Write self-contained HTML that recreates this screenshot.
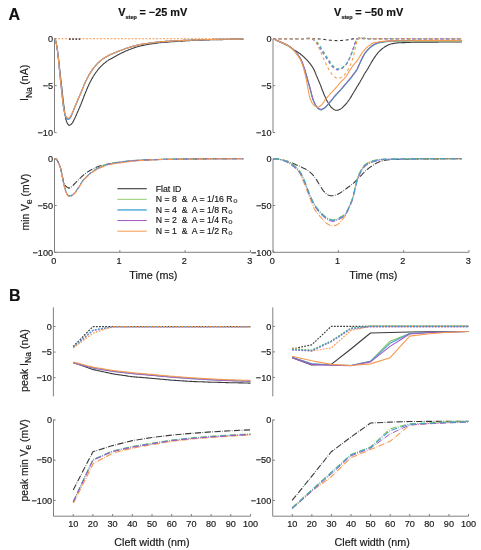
<!DOCTYPE html>
<html><head><meta charset="utf-8"><title>Figure</title>
<style>
html,body{margin:0;padding:0;background:#fff;}
body{width:481px;height:550px;overflow:hidden;}
svg{display:block;font-family:"Liberation Sans", sans-serif;will-change:transform;}
#w{width:481px;height:550px;}
text{stroke:#1a1a1a;stroke-width:0.18px;}
</style></head>
<body>
<div id="w">
<svg width="481" height="550" viewBox="0 0 481 550">
<rect width="481" height="550" fill="#fff"/>
<text x="8.4" y="20.2" font-size="16" text-anchor="start" font-weight="bold" fill="#111" >A</text>
<text x="8.9" y="301.1" font-size="16" text-anchor="start" font-weight="bold" fill="#111" >B</text>
<text x="118.20" y="16.1" font-size="10.9" font-weight="bold" fill="#111">V</text>
<text x="125.60" y="18.7" font-size="5.4" font-weight="bold" fill="#111">step</text>
<text x="139.45" y="16.1" font-size="10.9" font-weight="bold" fill="#111">= &#8722;25 mV</text>
<text x="334.10" y="16.1" font-size="10.9" font-weight="bold" fill="#111">V</text>
<text x="341.50" y="18.7" font-size="5.4" font-weight="bold" fill="#111">step</text>
<text x="355.35" y="16.1" font-size="10.9" font-weight="bold" fill="#111">= &#8722;50 mV</text>
<line x1="54.5" y1="38.7" x2="54.5" y2="132.60000000000002" stroke="#808080" stroke-width="1.0"/>
<line x1="54.5" y1="38.7" x2="56.7" y2="38.7" stroke="#808080" stroke-width="1.0"/>
<text x="53.0" y="41.900000000000006" font-size="9.1" text-anchor="end" font-weight="normal" fill="#1a1a1a" >0</text>
<line x1="54.5" y1="85.65" x2="56.7" y2="85.65" stroke="#808080" stroke-width="1.0"/>
<text x="53.0" y="88.85000000000001" font-size="9.1" text-anchor="end" font-weight="normal" fill="#1a1a1a" >&#8722;5</text>
<line x1="54.5" y1="132.60000000000002" x2="56.7" y2="132.60000000000002" stroke="#808080" stroke-width="1.0"/>
<text x="53.0" y="135.8" font-size="9.1" text-anchor="end" font-weight="normal" fill="#1a1a1a" >&#8722;10</text>
<line x1="273.0" y1="38.7" x2="273.0" y2="132.60000000000002" stroke="#808080" stroke-width="1.0"/>
<line x1="273.0" y1="38.7" x2="275.2" y2="38.7" stroke="#808080" stroke-width="1.0"/>
<text x="271.5" y="41.900000000000006" font-size="9.1" text-anchor="end" font-weight="normal" fill="#1a1a1a" >0</text>
<line x1="273.0" y1="85.65" x2="275.2" y2="85.65" stroke="#808080" stroke-width="1.0"/>
<text x="271.5" y="88.85000000000001" font-size="9.1" text-anchor="end" font-weight="normal" fill="#1a1a1a" >&#8722;5</text>
<line x1="273.0" y1="132.60000000000002" x2="275.2" y2="132.60000000000002" stroke="#808080" stroke-width="1.0"/>
<text x="271.5" y="135.8" font-size="9.1" text-anchor="end" font-weight="normal" fill="#1a1a1a" >&#8722;10</text>
<line x1="54.5" y1="158.7" x2="54.5" y2="252.3" stroke="#808080" stroke-width="1.0"/>
<line x1="54.5" y1="158.7" x2="56.7" y2="158.7" stroke="#808080" stroke-width="1.0"/>
<text x="53.0" y="161.89999999999998" font-size="9.1" text-anchor="end" font-weight="normal" fill="#1a1a1a" >0</text>
<line x1="54.5" y1="205.5" x2="56.7" y2="205.5" stroke="#808080" stroke-width="1.0"/>
<text x="53.0" y="208.7" font-size="9.1" text-anchor="end" font-weight="normal" fill="#1a1a1a" >&#8722;50</text>
<line x1="54.5" y1="252.3" x2="56.7" y2="252.3" stroke="#808080" stroke-width="1.0"/>
<text x="53.0" y="255.5" font-size="9.1" text-anchor="end" font-weight="normal" fill="#1a1a1a" >&#8722;100</text>
<line x1="54.5" y1="252.3" x2="250.5" y2="252.3" stroke="#808080" stroke-width="1.0"/>
<line x1="54.5" y1="252.3" x2="54.5" y2="250.10000000000002" stroke="#808080" stroke-width="1.0"/>
<text x="53.7" y="263.90000000000003" font-size="9.1" text-anchor="middle" font-weight="normal" fill="#1a1a1a" >0</text>
<line x1="119.83333333333333" y1="252.3" x2="119.83333333333333" y2="250.10000000000002" stroke="#808080" stroke-width="1.0"/>
<text x="119.03333333333333" y="263.90000000000003" font-size="9.1" text-anchor="middle" font-weight="normal" fill="#1a1a1a" >1</text>
<line x1="185.16666666666666" y1="252.3" x2="185.16666666666666" y2="250.10000000000002" stroke="#808080" stroke-width="1.0"/>
<text x="184.36666666666665" y="263.90000000000003" font-size="9.1" text-anchor="middle" font-weight="normal" fill="#1a1a1a" >2</text>
<line x1="250.5" y1="252.3" x2="250.5" y2="250.10000000000002" stroke="#808080" stroke-width="1.0"/>
<text x="249.7" y="263.90000000000003" font-size="9.1" text-anchor="middle" font-weight="normal" fill="#1a1a1a" >3</text>
<text x="153.3" y="278.9" font-size="10.8" text-anchor="middle" font-weight="normal" fill="#1a1a1a" >Time (ms)</text>
<line x1="273.0" y1="158.7" x2="273.0" y2="252.3" stroke="#808080" stroke-width="1.0"/>
<line x1="273.0" y1="158.7" x2="275.2" y2="158.7" stroke="#808080" stroke-width="1.0"/>
<text x="271.5" y="161.89999999999998" font-size="9.1" text-anchor="end" font-weight="normal" fill="#1a1a1a" >0</text>
<line x1="273.0" y1="205.5" x2="275.2" y2="205.5" stroke="#808080" stroke-width="1.0"/>
<text x="271.5" y="208.7" font-size="9.1" text-anchor="end" font-weight="normal" fill="#1a1a1a" >&#8722;50</text>
<line x1="273.0" y1="252.3" x2="275.2" y2="252.3" stroke="#808080" stroke-width="1.0"/>
<text x="271.5" y="255.5" font-size="9.1" text-anchor="end" font-weight="normal" fill="#1a1a1a" >&#8722;100</text>
<line x1="273.0" y1="252.3" x2="469.0" y2="252.3" stroke="#808080" stroke-width="1.0"/>
<line x1="273.0" y1="252.3" x2="273.0" y2="250.10000000000002" stroke="#808080" stroke-width="1.0"/>
<text x="272.2" y="263.90000000000003" font-size="9.1" text-anchor="middle" font-weight="normal" fill="#1a1a1a" >0</text>
<line x1="338.3333333333333" y1="252.3" x2="338.3333333333333" y2="250.10000000000002" stroke="#808080" stroke-width="1.0"/>
<text x="337.5333333333333" y="263.90000000000003" font-size="9.1" text-anchor="middle" font-weight="normal" fill="#1a1a1a" >1</text>
<line x1="403.66666666666663" y1="252.3" x2="403.66666666666663" y2="250.10000000000002" stroke="#808080" stroke-width="1.0"/>
<text x="402.8666666666666" y="263.90000000000003" font-size="9.1" text-anchor="middle" font-weight="normal" fill="#1a1a1a" >2</text>
<line x1="469.0" y1="252.3" x2="469.0" y2="250.10000000000002" stroke="#808080" stroke-width="1.0"/>
<text x="468.2" y="263.90000000000003" font-size="9.1" text-anchor="middle" font-weight="normal" fill="#1a1a1a" >3</text>
<text x="373.3" y="278.9" font-size="10.8" text-anchor="middle" font-weight="normal" fill="#1a1a1a" >Time (ms)</text>
<line x1="53.4" y1="307.4" x2="53.4" y2="396.4" stroke="#808080" stroke-width="1.0"/>
<line x1="53.4" y1="326.6" x2="55.6" y2="326.6" stroke="#808080" stroke-width="1.0"/>
<text x="51.9" y="329.8" font-size="9.1" text-anchor="end" font-weight="normal" fill="#1a1a1a" >0</text>
<line x1="53.4" y1="352.1" x2="55.6" y2="352.1" stroke="#808080" stroke-width="1.0"/>
<text x="51.9" y="355.3" font-size="9.1" text-anchor="end" font-weight="normal" fill="#1a1a1a" >&#8722;5</text>
<line x1="53.4" y1="377.6" x2="55.6" y2="377.6" stroke="#808080" stroke-width="1.0"/>
<text x="51.9" y="380.8" font-size="9.1" text-anchor="end" font-weight="normal" fill="#1a1a1a" >&#8722;10</text>
<line x1="272.8" y1="307.4" x2="272.8" y2="396.4" stroke="#808080" stroke-width="1.0"/>
<line x1="272.8" y1="326.4" x2="275.0" y2="326.4" stroke="#808080" stroke-width="1.0"/>
<text x="271.3" y="329.59999999999997" font-size="9.1" text-anchor="end" font-weight="normal" fill="#1a1a1a" >0</text>
<line x1="272.8" y1="351.9" x2="275.0" y2="351.9" stroke="#808080" stroke-width="1.0"/>
<text x="271.3" y="355.09999999999997" font-size="9.1" text-anchor="end" font-weight="normal" fill="#1a1a1a" >&#8722;5</text>
<line x1="272.8" y1="377.4" x2="275.0" y2="377.4" stroke="#808080" stroke-width="1.0"/>
<text x="271.3" y="380.59999999999997" font-size="9.1" text-anchor="end" font-weight="normal" fill="#1a1a1a" >&#8722;10</text>
<line x1="53.5" y1="419.4" x2="53.5" y2="516.2" stroke="#808080" stroke-width="1.0"/>
<line x1="53.5" y1="419.9" x2="55.7" y2="419.9" stroke="#808080" stroke-width="1.0"/>
<text x="52.0" y="423.09999999999997" font-size="9.1" text-anchor="end" font-weight="normal" fill="#1a1a1a" >0</text>
<line x1="53.5" y1="460.17499999999995" x2="55.7" y2="460.17499999999995" stroke="#808080" stroke-width="1.0"/>
<text x="52.0" y="463.37499999999994" font-size="9.1" text-anchor="end" font-weight="normal" fill="#1a1a1a" >&#8722;50</text>
<line x1="53.5" y1="500.45" x2="55.7" y2="500.45" stroke="#808080" stroke-width="1.0"/>
<text x="52.0" y="503.65" font-size="9.1" text-anchor="end" font-weight="normal" fill="#1a1a1a" >&#8722;100</text>
<line x1="53.5" y1="516.2" x2="250.5" y2="516.2" stroke="#808080" stroke-width="1.0"/>
<line x1="73.2" y1="516.2" x2="73.2" y2="514.0" stroke="#808080" stroke-width="1.0"/>
<text x="73.2" y="526.9000000000001" font-size="9.1" text-anchor="middle" font-weight="normal" fill="#1a1a1a" >10</text>
<line x1="92.9" y1="516.2" x2="92.9" y2="514.0" stroke="#808080" stroke-width="1.0"/>
<text x="92.9" y="526.9000000000001" font-size="9.1" text-anchor="middle" font-weight="normal" fill="#1a1a1a" >20</text>
<line x1="112.6" y1="516.2" x2="112.6" y2="514.0" stroke="#808080" stroke-width="1.0"/>
<text x="112.6" y="526.9000000000001" font-size="9.1" text-anchor="middle" font-weight="normal" fill="#1a1a1a" >30</text>
<line x1="132.3" y1="516.2" x2="132.3" y2="514.0" stroke="#808080" stroke-width="1.0"/>
<text x="132.3" y="526.9000000000001" font-size="9.1" text-anchor="middle" font-weight="normal" fill="#1a1a1a" >40</text>
<line x1="152.0" y1="516.2" x2="152.0" y2="514.0" stroke="#808080" stroke-width="1.0"/>
<text x="152.0" y="526.9000000000001" font-size="9.1" text-anchor="middle" font-weight="normal" fill="#1a1a1a" >50</text>
<line x1="171.7" y1="516.2" x2="171.7" y2="514.0" stroke="#808080" stroke-width="1.0"/>
<text x="171.7" y="526.9000000000001" font-size="9.1" text-anchor="middle" font-weight="normal" fill="#1a1a1a" >60</text>
<line x1="191.4" y1="516.2" x2="191.4" y2="514.0" stroke="#808080" stroke-width="1.0"/>
<text x="191.4" y="526.9000000000001" font-size="9.1" text-anchor="middle" font-weight="normal" fill="#1a1a1a" >70</text>
<line x1="211.1" y1="516.2" x2="211.1" y2="514.0" stroke="#808080" stroke-width="1.0"/>
<text x="211.1" y="526.9000000000001" font-size="9.1" text-anchor="middle" font-weight="normal" fill="#1a1a1a" >80</text>
<line x1="230.8" y1="516.2" x2="230.8" y2="514.0" stroke="#808080" stroke-width="1.0"/>
<text x="230.8" y="526.9000000000001" font-size="9.1" text-anchor="middle" font-weight="normal" fill="#1a1a1a" >90</text>
<line x1="250.5" y1="516.2" x2="250.5" y2="514.0" stroke="#808080" stroke-width="1.0"/>
<text x="250.5" y="526.9000000000001" font-size="9.1" text-anchor="middle" font-weight="normal" fill="#1a1a1a" >100</text>
<text x="151.9" y="546.1" font-size="10.75" text-anchor="middle" font-weight="normal" fill="#1a1a1a" >Cleft width (nm)</text>
<line x1="272.7" y1="419.5" x2="272.7" y2="516.2" stroke="#808080" stroke-width="1.0"/>
<line x1="272.7" y1="420.0" x2="274.9" y2="420.0" stroke="#808080" stroke-width="1.0"/>
<text x="271.2" y="423.2" font-size="9.1" text-anchor="end" font-weight="normal" fill="#1a1a1a" >0</text>
<line x1="272.7" y1="460.225" x2="274.9" y2="460.225" stroke="#808080" stroke-width="1.0"/>
<text x="271.2" y="463.425" font-size="9.1" text-anchor="end" font-weight="normal" fill="#1a1a1a" >&#8722;50</text>
<line x1="272.7" y1="500.45" x2="274.9" y2="500.45" stroke="#808080" stroke-width="1.0"/>
<text x="271.2" y="503.65" font-size="9.1" text-anchor="end" font-weight="normal" fill="#1a1a1a" >&#8722;100</text>
<line x1="272.7" y1="516.2" x2="468.5" y2="516.2" stroke="#808080" stroke-width="1.0"/>
<line x1="292.28" y1="516.2" x2="292.28" y2="514.0" stroke="#808080" stroke-width="1.0"/>
<text x="292.28" y="526.9000000000001" font-size="9.1" text-anchor="middle" font-weight="normal" fill="#1a1a1a" >10</text>
<line x1="311.86" y1="516.2" x2="311.86" y2="514.0" stroke="#808080" stroke-width="1.0"/>
<text x="311.86" y="526.9000000000001" font-size="9.1" text-anchor="middle" font-weight="normal" fill="#1a1a1a" >20</text>
<line x1="331.44" y1="516.2" x2="331.44" y2="514.0" stroke="#808080" stroke-width="1.0"/>
<text x="331.44" y="526.9000000000001" font-size="9.1" text-anchor="middle" font-weight="normal" fill="#1a1a1a" >30</text>
<line x1="351.02" y1="516.2" x2="351.02" y2="514.0" stroke="#808080" stroke-width="1.0"/>
<text x="351.02" y="526.9000000000001" font-size="9.1" text-anchor="middle" font-weight="normal" fill="#1a1a1a" >40</text>
<line x1="370.6" y1="516.2" x2="370.6" y2="514.0" stroke="#808080" stroke-width="1.0"/>
<text x="370.6" y="526.9000000000001" font-size="9.1" text-anchor="middle" font-weight="normal" fill="#1a1a1a" >50</text>
<line x1="390.18" y1="516.2" x2="390.18" y2="514.0" stroke="#808080" stroke-width="1.0"/>
<text x="390.18" y="526.9000000000001" font-size="9.1" text-anchor="middle" font-weight="normal" fill="#1a1a1a" >60</text>
<line x1="409.76" y1="516.2" x2="409.76" y2="514.0" stroke="#808080" stroke-width="1.0"/>
<text x="409.76" y="526.9000000000001" font-size="9.1" text-anchor="middle" font-weight="normal" fill="#1a1a1a" >70</text>
<line x1="429.34000000000003" y1="516.2" x2="429.34000000000003" y2="514.0" stroke="#808080" stroke-width="1.0"/>
<text x="429.34000000000003" y="526.9000000000001" font-size="9.1" text-anchor="middle" font-weight="normal" fill="#1a1a1a" >80</text>
<line x1="448.92" y1="516.2" x2="448.92" y2="514.0" stroke="#808080" stroke-width="1.0"/>
<text x="448.92" y="526.9000000000001" font-size="9.1" text-anchor="middle" font-weight="normal" fill="#1a1a1a" >90</text>
<line x1="468.5" y1="516.2" x2="468.5" y2="514.0" stroke="#808080" stroke-width="1.0"/>
<text x="468.5" y="526.9000000000001" font-size="9.1" text-anchor="middle" font-weight="normal" fill="#1a1a1a" >100</text>
<text x="372.25" y="546.1" font-size="10.75" text-anchor="middle" font-weight="normal" fill="#1a1a1a" >Cleft width (nm)</text>
<text transform="translate(28.1,82.9) rotate(-90)" font-size="10.6" text-anchor="middle" fill="#1a1a1a">I<tspan font-size="8.6" dy="3.4">Na</tspan><tspan dy="-3.4" dx="-0.6"> (nA)</tspan></text>
<text transform="translate(28.9,202.2) rotate(-90)" font-size="10.4" text-anchor="middle" fill="#1a1a1a">min V<tspan font-size="8.4" dy="3.2">e</tspan><tspan dy="-3.2"> (mV)</tspan></text>
<text transform="translate(27.8,360.5) rotate(-90)" font-size="10.6" text-anchor="middle" fill="#1a1a1a">peak I<tspan font-size="8.6" dy="3.2">Na</tspan><tspan dy="-3.2"> (nA)</tspan></text>
<text transform="translate(28.2,460.4) rotate(-90)" font-size="10.4" text-anchor="middle" fill="#1a1a1a">peak min V<tspan font-size="8.4" dy="3.2">e</tspan><tspan dy="-3.2"> (mV)</tspan></text>
<line x1="117.4" y1="188.7" x2="146.8" y2="188.7" stroke="#3a3a3a" stroke-width="1.1"/>
<text x="155.8" y="191.5" font-size="8.7" text-anchor="start" font-weight="normal" fill="#1a1a1a" >Flat ID</text>
<line x1="117.4" y1="199.32" x2="146.8" y2="199.32" stroke="#86c45e" stroke-width="0.9"/>
<text x="155.8" y="202.02" font-size="8.7" fill="#1a1a1a" xml:space="preserve">N = 8 &#160;&amp;&#160; A = 1/16 R<tspan font-size="7" dx="0.6" dy="1.2" font-weight="bold" fill="#666" stroke="#666">o</tspan></text>
<line x1="117.4" y1="209.94" x2="146.8" y2="209.94" stroke="#3f9fd6" stroke-width="1.3"/>
<text x="155.8" y="212.64" font-size="8.7" fill="#1a1a1a" xml:space="preserve">N = 4 &#160;&amp;&#160; A = 1/8 R<tspan font-size="7" dx="0.6" dy="1.2" font-weight="bold" fill="#666" stroke="#666">o</tspan></text>
<line x1="117.4" y1="220.56" x2="146.8" y2="220.56" stroke="#a458c0" stroke-width="1.0"/>
<text x="155.8" y="223.26" font-size="8.7" fill="#1a1a1a" xml:space="preserve">N = 2 &#160;&amp;&#160; A = 1/4 R<tspan font-size="7" dx="0.6" dy="1.2" font-weight="bold" fill="#666" stroke="#666">o</tspan></text>
<line x1="117.4" y1="231.17999999999998" x2="146.8" y2="231.17999999999998" stroke="#f59a4f" stroke-width="1.0"/>
<text x="155.8" y="233.88" font-size="8.7" fill="#1a1a1a" xml:space="preserve">N = 1 &#160;&amp;&#160; A = 1/2 R<tspan font-size="7" dx="0.6" dy="1.2" font-weight="bold" fill="#666" stroke="#666">o</tspan></text>
<path d="M54.50,38.70 L243.40,38.70" fill="none" stroke="#f59a4f" stroke-width="1.1" stroke-dasharray="2 1.5" stroke-dashoffset="0" stroke-linejoin="round" />
<path d="M69.00,39.20 L80.50,39.20" fill="none" stroke="#2a1a3a" stroke-width="1.3" stroke-dasharray="1.7 1.5" stroke-dashoffset="0" stroke-linejoin="round" />
<path d="M54.6,38.7 55.1,39.6 55.6,40.6 55.8,41.3 56.0,42.2 56.2,43.1 56.4,44.0 56.6,45.0 56.8,45.9 56.9,46.9 57.1,47.8 57.2,48.9 57.4,49.9 57.6,50.9 57.7,52.0 57.8,52.9 57.9,53.7 58.0,54.6 58.2,55.5 58.3,56.4 58.4,57.3 58.5,58.2 58.6,59.2 58.7,60.1 58.8,61.0 58.9,61.9 59.0,62.8 59.1,63.7 59.2,64.6 59.3,65.5 59.4,66.4 59.5,67.3 59.6,68.3 59.7,69.2 59.8,70.1 59.9,71.0 60.0,71.9 60.1,72.8 60.2,73.7 60.3,74.6 60.4,75.6 60.5,76.5 60.6,77.4 60.7,78.3 60.8,79.2 60.9,80.1 61.0,81.0 61.1,81.9 61.2,82.9 61.3,83.8 61.4,84.7 61.5,85.7 61.7,86.6 61.8,87.5 61.9,88.5 62.0,89.4 62.1,90.4 62.2,91.3 62.3,92.2 62.4,93.2 62.5,94.2 62.6,95.1 62.7,96.1 62.8,97.1 62.9,98.0 63.0,98.9 63.1,99.8 63.2,100.7 63.3,101.5 63.4,102.6 63.6,103.6 63.7,104.6 63.8,105.6 64.0,106.5 64.1,107.5 64.2,108.5 64.3,109.5 64.5,110.4 64.6,111.4 64.7,112.4 64.9,113.5 65.1,114.4 65.2,115.3 65.4,116.3 65.5,117.3 65.7,118.3 65.9,119.3 66.2,120.2 66.4,121.0 66.7,121.8 67.2,122.9 67.7,123.9 68.3,124.8 68.9,125.2 69.7,125.1 70.6,124.7 71.5,124.0 72.0,123.4 72.5,122.7 73.0,121.9 73.5,121.0 73.9,120.0 74.4,119.1 74.8,118.3 75.2,117.5 75.6,116.6 76.0,115.7 76.4,114.8 76.8,113.9 77.2,112.9 77.6,112.0 78.0,111.1 78.4,110.2 78.7,109.4 79.1,108.5 79.5,107.7 79.9,106.8 80.2,105.9 80.6,105.0 81.0,104.2 81.3,103.3 81.7,102.4 82.0,101.5 82.4,100.6 82.7,99.8 83.0,98.9 83.4,98.0 83.7,97.1 84.0,96.2 84.4,95.3 84.7,94.4 85.1,93.5 85.4,92.7 85.8,91.8 86.2,90.9 86.5,90.1 86.9,89.2 87.3,88.3 87.6,87.4 88.0,86.6 88.4,85.7 88.8,84.8 89.2,84.0 89.6,83.2 90.0,82.3 90.5,81.5 90.9,80.6 91.4,79.8 91.8,78.9 92.3,78.1 92.8,77.3 93.2,76.5 93.7,75.8 94.2,75.0 94.7,74.2 95.3,73.3 95.8,72.5 96.4,71.8 97.0,71.0 97.5,70.2 98.1,69.5 98.7,68.8 99.3,68.1 100.0,67.4 100.6,66.7 101.3,66.1 102.0,65.4 102.6,64.8 103.3,64.2 104.0,63.5 104.8,62.9 105.5,62.3 106.3,61.7 107.0,61.1 107.8,60.6 108.7,60.0 109.6,59.4 110.6,58.9 111.5,58.4 112.4,57.9 113.3,57.4 114.2,56.9 115.1,56.4 116.0,55.9 116.8,55.5 117.5,55.1 118.3,54.7 119.1,54.3 120.0,53.8 120.7,53.5 121.5,53.1 122.3,52.7 123.1,52.3 123.9,51.9 124.8,51.5 125.7,51.1 126.6,50.7 127.5,50.4 128.3,50.0 129.2,49.6 130.1,49.3 131.1,48.9 132.0,48.6 132.9,48.2 133.8,47.9 134.7,47.6 135.7,47.3 136.6,47.0 137.5,46.7 138.4,46.5 139.4,46.2 140.3,46.0 141.2,45.8 142.1,45.6 143.0,45.4 144.0,45.2 144.9,45.0 145.8,44.8 146.7,44.6 147.7,44.5 148.6,44.3 149.5,44.2 150.4,44.0 151.4,43.9 152.3,43.7 153.2,43.6 154.1,43.5 155.1,43.3 156.0,43.2 156.9,43.1 157.9,42.9 158.8,42.8 159.7,42.7 160.6,42.6 161.5,42.5 162.5,42.4 163.5,42.3 164.4,42.3 165.4,42.2 166.3,42.1 167.3,42.1 168.2,42.0 169.2,41.9 170.1,41.9 171.1,41.8 172.0,41.7 173.0,41.6 174.0,41.6 175.0,41.5 175.9,41.4 176.8,41.4 177.7,41.3 178.6,41.3 179.5,41.2 180.5,41.2 181.4,41.1 182.4,41.1 183.3,41.0 184.2,41.0 185.2,40.9 186.1,40.8 187.0,40.8 187.9,40.7 188.8,40.7 189.7,40.6 190.7,40.5 191.6,40.5 192.5,40.4 193.5,40.4 194.4,40.4 195.4,40.3 196.4,40.3 197.3,40.3 198.3,40.2 199.3,40.2 200.3,40.2 201.3,40.1 202.3,40.1 203.3,40.1 204.2,40.0 205.2,40.0 206.2,40.0 207.2,39.9 208.2,39.9 209.2,39.9 210.2,39.8 211.1,39.8 212.1,39.8 213.1,39.8 214.0,39.7 215.0,39.7 216.0,39.7 216.9,39.7 217.9,39.6 218.8,39.6 219.8,39.6 220.7,39.6 221.6,39.6 222.6,39.6 223.5,39.5 224.5,39.5 225.4,39.5 226.4,39.5 227.3,39.5 228.3,39.5 229.2,39.5 230.1,39.4 231.1,39.4 232.0,39.4 233.0,39.4 233.9,39.4 234.9,39.4 235.8,39.3 236.8,39.3 237.7,39.3 238.7,39.3 239.6,39.3 240.6,39.3 241.5,39.2 242.5,39.2 243.4,39.2" fill="none" stroke="#3a3a3a" stroke-width="1.1" stroke-linejoin="round" />
<path d="M54.6,38.7 55.1,39.6 55.6,40.6 55.8,41.3 56.0,42.2 56.2,43.1 56.4,44.0 56.6,45.0 56.8,45.9 56.9,46.9 57.1,47.8 57.2,48.9 57.3,49.9 57.5,51.0 57.6,52.0 57.7,52.9 57.8,53.7 57.9,54.6 58.0,55.5 58.1,56.4 58.2,57.3 58.3,58.3 58.4,59.2 58.5,60.1 58.6,61.0 58.7,61.9 58.8,62.8 58.9,63.7 59.0,64.6 59.1,65.6 59.1,66.5 59.2,67.4 59.3,68.3 59.4,69.2 59.5,70.1 59.6,71.1 59.7,72.0 59.8,72.9 59.9,73.8 60.0,74.7 60.1,75.7 60.1,76.6 60.2,77.5 60.3,78.4 60.4,79.3 60.5,80.2 60.6,81.1 60.7,82.1 60.8,83.0 60.9,83.9 61.0,84.8 61.1,85.8 61.2,86.7 61.3,87.6 61.4,88.5 61.5,89.5 61.6,90.4 61.7,91.3 61.8,92.3 61.9,93.2 62.0,94.2 62.1,95.1 62.2,96.1 62.3,97.1 62.4,98.0 62.5,98.9 62.6,99.9 62.7,100.8 62.8,101.8 62.9,102.7 63.0,103.7 63.1,104.6 63.3,105.6 63.4,106.5 63.5,107.4 63.6,108.3 63.8,109.2 64.0,110.2 64.2,111.1 64.4,112.1 64.6,113.0 64.8,113.9 65.0,114.7 65.3,115.5 65.7,116.5 66.1,117.4 66.5,118.2 67.0,118.8 67.8,119.3 68.6,119.3 69.5,118.6 70.4,117.5 70.8,116.7 71.3,115.9 71.7,114.9 72.1,113.8 72.5,112.8 72.9,111.8 73.3,110.9 73.6,110.1 74.0,109.2 74.3,108.3 74.7,107.4 75.1,106.5 75.4,105.6 75.8,104.7 76.2,103.8 76.5,103.0 76.9,102.1 77.3,101.2 77.7,100.3 78.1,99.4 78.4,98.5 78.8,97.6 79.2,96.7 79.6,95.8 80.0,94.9 80.4,94.0 80.8,93.1 81.2,92.2 81.6,91.2 81.9,90.4 82.3,89.6 82.6,88.7 82.9,87.8 83.3,87.0 83.6,86.1 84.0,85.2 84.3,84.3 84.7,83.5 85.1,82.6 85.5,81.7 85.9,80.8 86.4,80.0 86.8,79.1 87.3,78.2 87.7,77.3 88.2,76.5 88.6,75.6 89.1,74.8 89.6,74.0 90.1,73.2 90.6,72.4 91.1,71.6 91.6,70.9 92.1,70.1 92.6,69.4 93.1,68.7 93.7,68.0 94.2,67.3 94.8,66.5 95.5,65.8 96.1,65.0 96.7,64.3 97.4,63.6 98.0,62.9 98.7,62.3 99.4,61.6 100.2,61.0 101.0,60.3 101.7,59.7 102.5,59.2 103.3,58.6 104.2,58.0 105.1,57.4 106.0,56.9 106.9,56.4 107.8,55.9 108.7,55.5 109.6,55.0 110.5,54.6 111.4,54.2 112.4,53.8 113.2,53.5 114.0,53.1 114.8,52.8 115.6,52.4 116.5,52.0 117.4,51.7 118.2,51.3 119.1,50.9 120.0,50.6 120.9,50.3 121.8,49.9 122.7,49.6 123.7,49.3 124.6,48.9 125.5,48.6 126.4,48.3 127.4,48.0 128.3,47.7 129.2,47.4 130.1,47.1 131.1,46.9 132.0,46.6 132.9,46.3 133.8,46.1 134.7,45.9 135.7,45.6 136.6,45.4 137.5,45.2 138.4,45.0 139.4,44.8 140.3,44.6 141.2,44.4 142.1,44.3 143.1,44.1 144.0,44.0 144.9,43.8 145.8,43.6 146.7,43.5 147.7,43.4 148.6,43.2 149.5,43.1 150.4,43.0 151.4,42.8 152.3,42.7 153.2,42.6 154.1,42.5 155.1,42.4 156.0,42.3 156.9,42.2 157.9,42.1 158.8,42.0 159.7,41.9 160.6,41.8 161.5,41.7 162.5,41.6 163.5,41.5 164.4,41.5 165.4,41.4 166.3,41.4 167.3,41.3 168.2,41.2 169.2,41.2 170.1,41.1 171.1,41.1 172.0,41.0 173.0,40.9 174.0,40.9 175.0,40.8 175.9,40.8 176.8,40.7 177.7,40.7 178.6,40.6 179.5,40.6 180.5,40.6 181.4,40.5 182.4,40.5 183.3,40.4 184.2,40.4 185.2,40.4 186.1,40.3 187.0,40.3 187.9,40.2 188.8,40.2 189.7,40.2 190.7,40.1 191.6,40.1 192.5,40.0 193.5,40.0 194.4,40.0 195.4,39.9 196.4,39.9 197.3,39.9 198.3,39.9 199.3,39.8 200.3,39.8 201.3,39.8 202.3,39.8 203.3,39.7 204.2,39.7 205.2,39.7 206.2,39.6 207.2,39.6 208.2,39.6 209.2,39.6 210.2,39.5 211.1,39.5 212.1,39.5 213.1,39.4 214.0,39.4 215.0,39.4 216.0,39.4 216.9,39.4 217.9,39.3 218.8,39.3 219.8,39.3 220.7,39.3 221.6,39.3 222.6,39.3 223.5,39.3 224.5,39.3 225.4,39.3 226.4,39.2 227.3,39.2 228.3,39.2 229.2,39.2 230.1,39.2 231.1,39.2 232.0,39.2 233.0,39.1 233.9,39.1 234.9,39.1 235.8,39.1 236.8,39.1 237.7,39.1 238.7,39.1 239.6,39.1 240.6,39.0 241.5,39.0 242.5,39.0 243.4,39.0" fill="none" stroke="#a458c0" stroke-width="1.1" stroke-linejoin="round" />
<path d="M54.6,38.7 55.1,39.6 55.6,40.6 55.8,41.3 56.0,42.2 56.2,43.1 56.4,44.0 56.6,45.0 56.8,45.9 56.9,46.9 57.1,47.8 57.2,48.9 57.3,49.9 57.5,51.0 57.6,52.0 57.7,52.9 57.8,53.7 57.9,54.6 58.0,55.5 58.1,56.4 58.2,57.3 58.3,58.3 58.4,59.2 58.5,60.1 58.6,61.0 58.7,61.9 58.8,62.8 58.9,63.7 59.0,64.6 59.1,65.6 59.1,66.5 59.2,67.4 59.3,68.3 59.4,69.2 59.5,70.1 59.6,71.1 59.7,72.0 59.8,72.9 59.9,73.8 60.0,74.7 60.1,75.7 60.1,76.6 60.2,77.5 60.3,78.4 60.4,79.3 60.5,80.2 60.6,81.1 60.7,82.1 60.8,83.0 60.9,83.9 61.0,84.8 61.1,85.8 61.2,86.7 61.3,87.6 61.4,88.5 61.5,89.5 61.6,90.4 61.7,91.3 61.8,92.3 61.9,93.2 62.0,94.2 62.1,95.1 62.2,96.1 62.3,97.1 62.4,98.0 62.5,98.9 62.6,99.9 62.7,100.8 62.8,101.8 62.9,102.7 63.0,103.7 63.1,104.6 63.3,105.6 63.4,106.5 63.5,107.4 63.6,108.3 63.8,109.2 64.0,110.2 64.2,111.1 64.4,112.1 64.6,113.0 64.8,113.9 65.0,114.7 65.3,115.5 65.7,116.5 66.1,117.4 66.5,118.2 67.0,118.8 67.8,119.3 68.6,119.3 69.5,118.6 70.4,117.5 70.8,116.7 71.3,115.9 71.7,114.9 72.1,113.8 72.5,112.8 72.9,111.8 73.3,110.9 73.6,110.1 74.0,109.2 74.3,108.3 74.7,107.4 75.1,106.5 75.4,105.6 75.8,104.7 76.2,103.8 76.5,103.0 76.9,102.1 77.3,101.2 77.7,100.3 78.1,99.4 78.4,98.5 78.8,97.6 79.2,96.7 79.6,95.8 80.0,94.9 80.4,94.0 80.8,93.1 81.2,92.2 81.6,91.2 81.9,90.4 82.3,89.6 82.6,88.7 82.9,87.8 83.3,87.0 83.6,86.1 84.0,85.2 84.3,84.3 84.7,83.5 85.1,82.6 85.5,81.7 85.9,80.8 86.4,80.0 86.8,79.1 87.3,78.2 87.7,77.3 88.2,76.5 88.6,75.6 89.1,74.8 89.6,74.0 90.1,73.2 90.6,72.4 91.1,71.6 91.6,70.9 92.1,70.1 92.6,69.4 93.1,68.7 93.7,68.0 94.2,67.3 94.8,66.5 95.5,65.8 96.1,65.0 96.7,64.3 97.4,63.6 98.0,62.9 98.7,62.3 99.4,61.6 100.2,61.0 101.0,60.3 101.7,59.7 102.5,59.2 103.3,58.6 104.2,58.0 105.1,57.4 106.0,56.9 106.9,56.4 107.8,55.9 108.7,55.5 109.6,55.0 110.5,54.6 111.4,54.2 112.4,53.8 113.2,53.5 114.0,53.1 114.8,52.8 115.6,52.4 116.5,52.0 117.4,51.7 118.2,51.3 119.1,50.9 120.0,50.6 120.9,50.3 121.8,49.9 122.7,49.6 123.7,49.3 124.6,48.9 125.5,48.6 126.4,48.3 127.4,48.0 128.3,47.7 129.2,47.4 130.1,47.1 131.1,46.9 132.0,46.6 132.9,46.3 133.8,46.1 134.7,45.9 135.7,45.6 136.6,45.4 137.5,45.2 138.4,45.0 139.4,44.8 140.3,44.6 141.2,44.4 142.1,44.3 143.1,44.1 144.0,44.0 144.9,43.8 145.8,43.6 146.7,43.5 147.7,43.4 148.6,43.2 149.5,43.1 150.4,43.0 151.4,42.8 152.3,42.7 153.2,42.6 154.1,42.5 155.1,42.4 156.0,42.3 156.9,42.2 157.9,42.1 158.8,42.0 159.7,41.9 160.6,41.8 161.5,41.7 162.5,41.6 163.5,41.5 164.4,41.5 165.4,41.4 166.3,41.4 167.3,41.3 168.2,41.2 169.2,41.2 170.1,41.1 171.1,41.1 172.0,41.0 173.0,40.9 174.0,40.9 175.0,40.8 175.9,40.8 176.8,40.7 177.7,40.7 178.6,40.6 179.5,40.6 180.5,40.6 181.4,40.5 182.4,40.5 183.3,40.4 184.2,40.4 185.2,40.4 186.1,40.3 187.0,40.3 187.9,40.2 188.8,40.2 189.7,40.2 190.7,40.1 191.6,40.1 192.5,40.0 193.5,40.0 194.4,40.0 195.4,39.9 196.4,39.9 197.3,39.9 198.3,39.9 199.3,39.8 200.3,39.8 201.3,39.8 202.3,39.8 203.3,39.7 204.2,39.7 205.2,39.7 206.2,39.6 207.2,39.6 208.2,39.6 209.2,39.6 210.2,39.5 211.1,39.5 212.1,39.5 213.1,39.4 214.0,39.4 215.0,39.4 216.0,39.4 216.9,39.4 217.9,39.3 218.8,39.3 219.8,39.3 220.7,39.3 221.6,39.3 222.6,39.3 223.5,39.3 224.5,39.3 225.4,39.3 226.4,39.2 227.3,39.2 228.3,39.2 229.2,39.2 230.1,39.2 231.1,39.2 232.0,39.2 233.0,39.1 233.9,39.1 234.9,39.1 235.8,39.1 236.8,39.1 237.7,39.1 238.7,39.1 239.6,39.1 240.6,39.0 241.5,39.0 242.5,39.0 243.4,39.0" fill="none" stroke="#3f9fd6" stroke-width="1.1" stroke-linejoin="round" />
<path d="M54.6,38.7 55.1,39.6 55.6,40.6 55.8,41.3 56.0,42.2 56.2,43.1 56.4,44.0 56.6,45.0 56.8,45.9 56.9,46.9 57.1,47.8 57.2,48.9 57.3,49.9 57.5,50.9 57.6,52.0 57.7,52.9 57.8,53.7 57.9,54.6 58.0,55.5 58.1,56.4 58.2,57.3 58.3,58.2 58.4,59.2 58.5,60.1 58.6,61.0 58.7,61.9 58.8,62.8 58.9,63.7 59.0,64.6 59.1,65.5 59.1,66.4 59.2,67.3 59.3,68.3 59.4,69.2 59.5,70.1 59.6,71.0 59.7,71.9 59.8,72.8 59.9,73.7 60.0,74.7 60.1,75.6 60.1,76.5 60.2,77.4 60.3,78.3 60.4,79.2 60.5,80.1 60.6,81.0 60.7,81.9 60.8,82.9 60.9,83.8 61.0,84.7 61.1,85.6 61.2,86.5 61.3,87.4 61.4,88.3 61.5,89.3 61.6,90.2 61.7,91.1 61.8,92.0 61.9,93.0 62.0,93.9 62.1,94.9 62.2,95.8 62.3,96.8 62.4,97.7 62.5,98.6 62.6,99.5 62.7,100.4 62.8,101.4 62.9,102.3 63.0,103.3 63.1,104.2 63.3,105.1 63.4,106.0 63.5,106.9 63.6,107.8 63.8,108.6 64.0,109.7 64.2,110.8 64.5,111.8 64.7,112.8 65.0,113.7 65.3,114.6 65.8,115.8 66.4,116.9 67.0,117.6 67.8,118.0 68.6,118.0 69.5,117.4 70.4,116.4 70.8,115.7 71.3,114.9 71.7,114.0 72.1,113.1 72.5,112.1 72.9,111.2 73.3,110.4 73.6,109.6 74.0,108.8 74.3,108.0 74.7,107.1 75.1,106.3 75.4,105.4 75.8,104.6 76.2,103.7 76.6,102.9 76.9,102.0 77.3,101.1 77.7,100.2 78.1,99.3 78.4,98.5 78.8,97.6 79.2,96.7 79.6,95.8 80.0,94.9 80.4,94.0 80.8,93.1 81.2,92.2 81.6,91.2 81.9,90.4 82.3,89.6 82.6,88.7 82.9,87.8 83.3,87.0 83.6,86.1 84.0,85.2 84.3,84.3 84.7,83.5 85.1,82.6 85.5,81.7 85.9,80.8 86.4,80.0 86.8,79.1 87.3,78.2 87.7,77.3 88.2,76.5 88.6,75.6 89.1,74.8 89.6,74.0 90.1,73.2 90.6,72.4 91.1,71.6 91.6,70.9 92.1,70.1 92.6,69.4 93.1,68.7 93.7,68.0 94.2,67.3 94.8,66.5 95.5,65.8 96.1,65.0 96.7,64.3 97.4,63.6 98.0,62.9 98.7,62.3 99.4,61.6 100.2,61.0 101.0,60.3 101.7,59.7 102.5,59.2 103.3,58.6 104.2,58.0 105.1,57.4 106.0,56.9 106.9,56.4 107.8,55.9 108.7,55.5 109.6,55.0 110.5,54.6 111.4,54.2 112.4,53.8 113.2,53.5 114.0,53.1 114.8,52.8 115.6,52.4 116.5,52.0 117.4,51.7 118.2,51.3 119.1,50.9 120.0,50.6 120.9,50.3 121.8,49.9 122.7,49.6 123.7,49.3 124.6,48.9 125.5,48.6 126.4,48.3 127.4,48.0 128.3,47.7 129.2,47.4 130.1,47.1 131.1,46.9 132.0,46.6 132.9,46.3 133.8,46.1 134.7,45.9 135.7,45.6 136.6,45.4 137.5,45.2 138.4,45.0 139.4,44.8 140.3,44.6 141.2,44.4 142.1,44.3 143.1,44.1 144.0,44.0 144.9,43.8 145.8,43.6 146.7,43.5 147.7,43.4 148.6,43.2 149.5,43.1 150.4,43.0 151.4,42.8 152.3,42.7 153.2,42.6 154.1,42.5 155.1,42.4 156.0,42.3 156.9,42.2 157.9,42.1 158.8,42.0 159.7,41.9 160.6,41.8 161.5,41.7 162.5,41.6 163.5,41.5 164.4,41.5 165.4,41.4 166.3,41.4 167.3,41.3 168.2,41.2 169.2,41.2 170.1,41.1 171.1,41.1 172.0,41.0 173.0,40.9 174.0,40.9 175.0,40.8 175.9,40.8 176.8,40.7 177.7,40.7 178.6,40.6 179.5,40.6 180.5,40.6 181.4,40.5 182.4,40.5 183.3,40.4 184.2,40.4 185.2,40.4 186.1,40.3 187.0,40.3 187.9,40.2 188.8,40.2 189.7,40.2 190.7,40.1 191.6,40.1 192.5,40.0 193.5,40.0 194.4,40.0 195.4,39.9 196.4,39.9 197.3,39.9 198.3,39.9 199.3,39.8 200.3,39.8 201.3,39.8 202.3,39.8 203.3,39.7 204.2,39.7 205.2,39.7 206.2,39.6 207.2,39.6 208.2,39.6 209.2,39.6 210.2,39.5 211.1,39.5 212.1,39.5 213.1,39.4 214.0,39.4 215.0,39.4 216.0,39.4 216.9,39.4 217.9,39.3 218.8,39.3 219.8,39.3 220.7,39.3 221.6,39.3 222.6,39.3 223.5,39.3 224.5,39.3 225.4,39.3 226.4,39.2 227.3,39.2 228.3,39.2 229.2,39.2 230.1,39.2 231.1,39.2 232.0,39.2 233.0,39.1 233.9,39.1 234.9,39.1 235.8,39.1 236.8,39.1 237.7,39.1 238.7,39.1 239.6,39.1 240.6,39.0 241.5,39.0 242.5,39.0 243.4,39.0" fill="none" stroke="#f59a4f" stroke-width="1.1" stroke-linejoin="round" />
<path d="M273.0,38.7 274.0,38.7 274.9,38.7 275.9,38.7 276.8,38.7 277.8,38.7 278.7,38.7 279.7,38.7 280.6,38.7 281.6,38.7 282.5,38.7 283.5,38.7 284.5,38.7 285.4,38.7 286.4,38.7 287.3,38.7 288.3,38.7 289.2,38.7 290.2,38.7 291.1,38.7 292.1,38.7 293.0,38.7 294.0,38.7 295.0,38.7 295.9,38.7 296.9,38.7 297.8,38.7 298.8,38.7 299.7,38.7 300.7,38.7 301.6,38.7 302.6,38.7 303.5,38.7 304.5,38.7 305.5,38.7 306.4,38.7 307.4,38.7 308.4,38.7 309.3,38.7 310.3,38.6 311.3,38.6 312.2,38.6 313.2,38.7 314.1,38.7 315.0,38.7 316.0,38.7 317.0,38.8 318.0,38.9 319.0,39.0 320.0,39.0 320.9,39.1 321.9,39.2 322.8,39.3 323.7,39.4 324.8,39.5 325.8,39.7 326.8,39.8 327.8,40.0 328.8,40.1 329.9,40.2 330.8,40.3 331.8,40.4 332.7,40.4 333.7,40.5 334.8,40.5 335.8,40.6 336.8,40.6 337.7,40.6 338.7,40.6 339.7,40.6 340.6,40.5 341.5,40.5 342.4,40.4 343.3,40.3 344.2,40.2 345.2,40.1 346.1,40.0 347.0,39.9 348.0,39.7 348.9,39.6 349.9,39.4 350.9,39.2 351.8,39.1 352.8,38.9 353.9,38.8 354.9,38.7 355.8,38.6 356.6,38.6 357.5,38.6 358.4,38.6 359.3,38.6 360.3,38.6 361.2,38.6 362.1,38.6 363.1,38.6 364.0,38.7 364.9,38.7 365.9,38.7 366.8,38.7 367.7,38.7 368.6,38.7 369.5,38.7 370.4,38.7 371.4,38.7 372.3,38.7 373.2,38.7 374.1,38.7 375.0,38.7 375.9,38.7 376.8,38.7 377.8,38.7 378.7,38.7 379.6,38.7 380.5,38.7 381.4,38.7 382.3,38.7 383.3,38.7 384.2,38.7 385.1,38.7 386.0,38.7 386.9,38.7 387.8,38.7 388.7,38.7 389.7,38.7 390.6,38.7 391.5,38.7 392.4,38.7 393.3,38.7 394.2,38.7 395.1,38.7 396.1,38.7 397.0,38.7 397.9,38.7 398.8,38.7 399.7,38.7 400.6,38.7 401.5,38.7 402.5,38.7 403.4,38.7 404.3,38.7 405.2,38.7 406.1,38.7 407.0,38.7 407.9,38.7 408.9,38.7 409.8,38.7 410.7,38.7 411.6,38.7 412.5,38.7 413.4,38.7 414.3,38.7 415.3,38.7 416.2,38.7 417.1,38.7 418.0,38.7 418.9,38.7 419.8,38.7 420.7,38.7 421.7,38.7 422.6,38.7 423.5,38.7 424.4,38.7 425.3,38.7 426.2,38.7 427.1,38.7 428.1,38.7 429.0,38.7 429.9,38.7 430.8,38.7 431.7,38.7 432.6,38.7 433.5,38.7 434.5,38.7 435.4,38.7 436.3,38.7 437.2,38.7 438.1,38.7 439.0,38.7 440.0,38.7 440.9,38.7 441.8,38.7 442.7,38.7 443.6,38.7 444.5,38.7 445.4,38.7 446.4,38.7 447.3,38.7 448.2,38.7 449.1,38.7 450.0,38.7 450.9,38.7 451.8,38.7 452.8,38.7 453.7,38.7 454.6,38.7 455.5,38.7 456.4,38.7 457.3,38.7 458.2,38.7 459.2,38.7 460.1,38.7 461.0,38.7 461.9,38.7" fill="none" stroke="#3a3a3a" stroke-width="1.1" stroke-dasharray="2.9 2.7" stroke-dashoffset="0" stroke-linejoin="round" />
<path d="M273.0,38.7 274.0,38.7 274.9,38.7 275.9,38.7 276.9,38.7 277.9,38.7 278.8,38.7 279.8,38.7 280.8,38.7 281.8,38.7 282.7,38.7 283.7,38.7 284.7,38.7 285.6,38.7 286.6,38.7 287.6,38.7 288.6,38.7 289.5,38.7 290.5,38.7 291.5,38.7 292.4,38.7 293.4,38.7 294.4,38.7 295.4,38.7 296.3,38.7 297.3,38.7 298.3,38.7 299.3,38.7 300.2,38.7 301.2,38.7 302.2,38.7 303.2,38.7 304.2,38.7 305.3,38.6 306.3,38.6 307.4,38.5 308.4,38.5 309.4,38.5 310.3,38.5 311.1,38.6 311.9,38.7 312.9,39.0 313.7,39.3 314.4,39.7 315.2,40.2 315.8,40.8 316.5,41.4 317.1,42.1 317.8,42.8 318.4,43.6 319.0,44.4 319.5,45.1 320.0,45.8 320.5,46.6 320.9,47.4 321.4,48.2 321.9,49.0 322.3,49.8 322.8,50.6 323.3,51.4 323.9,52.2 324.4,53.0 324.9,53.8 325.4,54.6 326.0,55.4 326.5,56.2 327.0,57.0 327.5,57.8 328.1,58.6 328.6,59.4 329.1,60.2 329.7,61.0 330.2,61.8 330.8,62.7 331.4,63.5 332.0,64.4 332.6,65.2 333.3,66.0 334.0,66.6 334.8,67.2 335.6,67.8 336.5,68.2 337.4,68.6 338.3,68.7 339.2,68.6 340.1,68.4 341.0,68.0 341.9,67.6 342.7,67.1 343.5,66.6 344.3,65.9 345.0,65.2 345.7,64.5 346.4,63.7 346.9,63.0 347.4,62.3 347.9,61.5 348.3,60.7 348.7,59.8 349.2,59.0 349.6,58.1 350.0,57.3 350.3,56.5 350.7,55.7 351.0,54.9 351.4,54.0 351.7,53.2 352.1,52.3 352.4,51.4 352.7,50.6 353.0,49.7 353.4,48.7 353.7,47.7 354.0,46.7 354.3,45.8 354.6,44.8 354.9,43.9 355.2,43.1 355.6,42.1 355.9,41.1 356.2,40.1 356.7,39.3 357.4,38.7 358.0,38.4 358.8,38.2 359.6,38.1 360.5,38.1 361.5,38.1 362.6,38.2 363.7,38.3 364.8,38.4 365.9,38.5 367.0,38.6 368.0,38.7 369.0,38.7 370.0,38.7 370.9,38.7 371.9,38.7 372.9,38.7 373.8,38.7 374.8,38.7 375.8,38.7 376.8,38.7 377.7,38.7 378.7,38.7 379.7,38.7 380.6,38.7 381.6,38.7 382.6,38.7 383.5,38.7 384.5,38.7 385.5,38.7 386.4,38.7 387.4,38.7 388.4,38.7 389.3,38.7 390.3,38.7 391.3,38.7 392.2,38.7 393.2,38.7 394.2,38.7 395.1,38.7 396.1,38.7 397.1,38.7 398.0,38.7 399.0,38.7 400.0,38.7 400.9,38.7 401.9,38.7 402.9,38.7 403.8,38.7 404.8,38.7 405.8,38.7 406.7,38.7 407.7,38.7 408.7,38.7 409.6,38.7 410.6,38.7 411.6,38.7 412.6,38.7 413.5,38.7 414.5,38.7 415.5,38.7 416.4,38.7 417.4,38.7 418.4,38.7 419.3,38.7 420.3,38.7 421.3,38.7 422.2,38.7 423.2,38.7 424.2,38.7 425.1,38.7 426.1,38.7 427.1,38.7 428.0,38.7 429.0,38.7 430.0,38.7 430.9,38.7 431.9,38.7 432.9,38.7 433.8,38.7 434.8,38.7 435.8,38.7 436.7,38.7 437.7,38.7 438.7,38.7 439.6,38.7 440.6,38.7 441.6,38.7 442.5,38.7 443.5,38.7 444.5,38.7 445.5,38.7 446.4,38.7 447.4,38.7 448.4,38.7 449.3,38.7 450.3,38.7 451.3,38.7 452.2,38.7 453.2,38.7 454.2,38.7 455.1,38.7 456.1,38.7 457.1,38.7 458.0,38.7 459.0,38.7 460.0,38.7 460.9,38.7 461.9,38.7" fill="none" stroke="#86c45e" stroke-width="1.1" stroke-dasharray="2.9 2.7" stroke-dashoffset="0" stroke-linejoin="round" />
<path d="M273.0,38.7 274.0,38.7 274.9,38.7 275.9,38.7 276.9,38.7 277.9,38.7 278.8,38.7 279.8,38.7 280.8,38.7 281.8,38.7 282.7,38.7 283.7,38.7 284.7,38.7 285.6,38.7 286.6,38.7 287.6,38.7 288.6,38.7 289.5,38.7 290.5,38.7 291.5,38.7 292.4,38.7 293.4,38.7 294.4,38.7 295.4,38.7 296.3,38.7 297.3,38.7 298.3,38.7 299.3,38.7 300.2,38.7 301.2,38.7 302.2,38.7 303.2,38.7 304.2,38.6 305.3,38.6 306.4,38.5 307.4,38.4 308.5,38.4 309.4,38.4 310.4,38.4 311.2,38.5 311.9,38.7 312.8,39.1 313.5,39.7 314.1,40.3 314.8,41.0 315.4,41.6 316.0,42.3 316.6,43.1 317.2,43.9 317.8,44.8 318.4,45.6 318.9,46.3 319.4,47.1 319.8,47.9 320.3,48.7 320.8,49.5 321.3,50.3 321.7,51.0 322.2,51.8 322.7,52.6 323.3,53.4 323.8,54.2 324.3,55.0 324.8,55.8 325.4,56.6 325.9,57.4 326.4,58.2 326.9,59.0 327.5,59.8 328.0,60.6 328.5,61.4 329.1,62.2 329.6,63.0 330.2,63.9 330.8,64.7 331.4,65.6 332.0,66.4 332.7,67.2 333.4,67.8 334.2,68.4 335.0,69.0 335.9,69.4 336.8,69.8 337.7,69.9 338.6,69.8 339.5,69.6 340.4,69.2 341.3,68.8 342.1,68.3 342.9,67.8 343.7,67.1 344.4,66.4 345.1,65.7 345.8,64.9 346.3,64.2 346.8,63.5 347.3,62.7 347.7,61.9 348.1,61.0 348.6,60.2 349.0,59.3 349.4,58.5 349.7,57.7 350.1,56.9 350.4,56.1 350.8,55.2 351.1,54.4 351.5,53.5 351.8,52.6 352.1,51.8 352.4,50.9 352.7,49.9 353.0,48.9 353.3,48.0 353.6,47.0 353.9,46.1 354.3,45.2 354.6,44.3 355.0,43.3 355.3,42.2 355.7,41.1 356.1,40.2 356.6,39.3 357.4,38.7 358.1,38.4 358.8,38.2 359.7,38.1 360.6,38.0 361.6,38.1 362.6,38.2 363.7,38.3 364.8,38.4 365.9,38.5 367.0,38.6 368.0,38.7 369.0,38.7 370.0,38.7 370.9,38.7 371.9,38.7 372.9,38.7 373.8,38.7 374.8,38.7 375.8,38.7 376.8,38.7 377.7,38.7 378.7,38.7 379.7,38.7 380.6,38.7 381.6,38.7 382.6,38.7 383.5,38.7 384.5,38.7 385.5,38.7 386.4,38.7 387.4,38.7 388.4,38.7 389.3,38.7 390.3,38.7 391.3,38.7 392.2,38.7 393.2,38.7 394.2,38.7 395.1,38.7 396.1,38.7 397.1,38.7 398.0,38.7 399.0,38.7 400.0,38.7 400.9,38.7 401.9,38.7 402.9,38.7 403.8,38.7 404.8,38.7 405.8,38.7 406.7,38.7 407.7,38.7 408.7,38.7 409.6,38.7 410.6,38.7 411.6,38.7 412.6,38.7 413.5,38.7 414.5,38.7 415.5,38.7 416.4,38.7 417.4,38.7 418.4,38.7 419.3,38.7 420.3,38.7 421.3,38.7 422.2,38.7 423.2,38.7 424.2,38.7 425.1,38.7 426.1,38.7 427.1,38.7 428.0,38.7 429.0,38.7 430.0,38.7 430.9,38.7 431.9,38.7 432.9,38.7 433.8,38.7 434.8,38.7 435.8,38.7 436.7,38.7 437.7,38.7 438.7,38.7 439.6,38.7 440.6,38.7 441.6,38.7 442.5,38.7 443.5,38.7 444.5,38.7 445.5,38.7 446.4,38.7 447.4,38.7 448.4,38.7 449.3,38.7 450.3,38.7 451.3,38.7 452.2,38.7 453.2,38.7 454.2,38.7 455.1,38.7 456.1,38.7 457.1,38.7 458.0,38.7 459.0,38.7 460.0,38.7 460.9,38.7 461.9,38.7" fill="none" stroke="#a458c0" stroke-width="1.1" stroke-dasharray="2.9 2.7" stroke-dashoffset="0" stroke-linejoin="round" />
<path d="M273.0,38.7 274.0,38.7 274.9,38.7 275.9,38.7 276.9,38.7 277.9,38.7 278.8,38.7 279.8,38.7 280.8,38.7 281.8,38.7 282.7,38.7 283.7,38.7 284.7,38.7 285.6,38.7 286.6,38.7 287.6,38.7 288.6,38.7 289.5,38.7 290.5,38.7 291.5,38.7 292.4,38.7 293.4,38.7 294.4,38.7 295.4,38.7 296.3,38.7 297.3,38.7 298.3,38.7 299.3,38.7 300.2,38.7 301.2,38.7 302.2,38.7 303.2,38.7 304.2,38.6 305.3,38.6 306.3,38.5 307.4,38.5 308.4,38.4 309.4,38.4 310.3,38.5 311.2,38.5 311.9,38.7 312.8,39.0 313.6,39.5 314.3,40.0 315.0,40.6 315.6,41.2 316.3,41.9 316.9,42.6 317.5,43.4 318.1,44.2 318.7,45.0 319.2,45.7 319.7,46.5 320.2,47.2 320.6,48.0 321.1,48.8 321.6,49.6 322.0,50.4 322.5,51.2 323.0,52.0 323.6,52.8 324.1,53.6 324.6,54.4 325.1,55.2 325.7,56.0 326.2,56.8 326.7,57.6 327.2,58.4 327.8,59.2 328.3,60.0 328.8,60.8 329.4,61.6 329.9,62.4 330.5,63.3 331.1,64.1 331.7,65.0 332.3,65.8 333.0,66.6 333.7,67.2 334.5,67.8 335.3,68.4 336.2,68.8 337.1,69.2 338.0,69.3 338.9,69.2 339.8,69.0 340.7,68.6 341.6,68.2 342.4,67.7 343.2,67.2 344.0,66.5 344.7,65.8 345.4,65.1 346.1,64.3 346.6,63.6 347.1,62.9 347.6,62.1 348.0,61.3 348.4,60.4 348.9,59.6 349.3,58.7 349.7,57.9 350.0,57.1 350.4,56.3 350.7,55.5 351.1,54.6 351.4,53.8 351.8,52.9 352.1,52.0 352.4,51.2 352.7,50.3 353.1,49.3 353.4,48.3 353.7,47.4 353.9,46.4 354.3,45.5 354.6,44.6 354.9,43.7 355.2,42.8 355.5,41.8 355.8,40.9 356.2,40.0 356.7,39.3 357.4,38.7 358.0,38.4 358.8,38.2 359.6,38.1 360.6,38.1 361.6,38.1 362.6,38.2 363.7,38.3 364.8,38.4 365.9,38.5 367.0,38.6 368.0,38.7 369.0,38.7 370.0,38.7 370.9,38.7 371.9,38.7 372.9,38.7 373.8,38.7 374.8,38.7 375.8,38.7 376.8,38.7 377.7,38.7 378.7,38.7 379.7,38.7 380.6,38.7 381.6,38.7 382.6,38.7 383.5,38.7 384.5,38.7 385.5,38.7 386.4,38.7 387.4,38.7 388.4,38.7 389.3,38.7 390.3,38.7 391.3,38.7 392.2,38.7 393.2,38.7 394.2,38.7 395.1,38.7 396.1,38.7 397.1,38.7 398.0,38.7 399.0,38.7 400.0,38.7 400.9,38.7 401.9,38.7 402.9,38.7 403.8,38.7 404.8,38.7 405.8,38.7 406.7,38.7 407.7,38.7 408.7,38.7 409.6,38.7 410.6,38.7 411.6,38.7 412.6,38.7 413.5,38.7 414.5,38.7 415.5,38.7 416.4,38.7 417.4,38.7 418.4,38.7 419.3,38.7 420.3,38.7 421.3,38.7 422.2,38.7 423.2,38.7 424.2,38.7 425.1,38.7 426.1,38.7 427.1,38.7 428.0,38.7 429.0,38.7 430.0,38.7 430.9,38.7 431.9,38.7 432.9,38.7 433.8,38.7 434.8,38.7 435.8,38.7 436.7,38.7 437.7,38.7 438.7,38.7 439.6,38.7 440.6,38.7 441.6,38.7 442.5,38.7 443.5,38.7 444.5,38.7 445.5,38.7 446.4,38.7 447.4,38.7 448.4,38.7 449.3,38.7 450.3,38.7 451.3,38.7 452.2,38.7 453.2,38.7 454.2,38.7 455.1,38.7 456.1,38.7 457.1,38.7 458.0,38.7 459.0,38.7 460.0,38.7 460.9,38.7 461.9,38.7" fill="none" stroke="#3f9fd6" stroke-width="1.1" stroke-dasharray="2.9 2.7" stroke-dashoffset="0" stroke-linejoin="round" />
<path d="M273.0,38.7 273.9,38.7 274.8,38.7 275.7,38.7 276.6,38.7 277.6,38.7 278.5,38.7 279.4,38.7 280.3,38.7 281.2,38.7 282.1,38.7 283.0,38.7 283.9,38.7 284.8,38.7 285.8,38.7 286.7,38.7 287.6,38.7 288.5,38.7 289.4,38.7 290.3,38.7 291.2,38.7 292.1,38.7 293.1,38.7 294.0,38.7 294.9,38.7 295.8,38.7 296.7,38.7 297.6,38.7 298.5,38.7 299.4,38.7 300.3,38.7 301.3,38.7 302.2,38.7 303.1,38.7 304.0,38.7 305.0,38.6 306.0,38.5 307.0,38.4 308.0,38.3 309.0,38.3 309.9,38.2 310.8,38.2 311.7,38.3 312.4,38.5 313.1,38.7 313.9,39.2 314.6,39.9 315.1,40.7 315.7,41.6 316.2,42.5 316.7,43.3 317.1,44.1 317.6,45.0 318.0,45.9 318.4,46.8 318.9,47.8 319.3,48.7 319.7,49.5 320.0,50.3 320.4,51.1 320.7,52.0 321.1,52.8 321.4,53.7 321.8,54.5 322.1,55.4 322.5,56.2 322.9,57.1 323.3,58.0 323.7,58.9 324.1,59.8 324.5,60.7 324.9,61.6 325.4,62.5 325.8,63.4 326.2,64.3 326.6,65.2 327.1,66.1 327.5,67.0 328.0,67.9 328.5,68.8 328.9,69.6 329.4,70.4 329.9,71.2 330.5,72.1 331.1,73.0 331.7,73.9 332.4,74.7 333.0,75.4 333.7,76.1 334.6,76.9 335.5,77.6 336.4,78.1 337.4,78.4 338.3,78.4 339.3,78.2 340.3,77.8 341.2,77.4 342.0,76.9 342.7,76.4 343.5,75.7 344.2,75.1 344.9,74.3 345.5,73.6 346.0,72.9 346.6,72.1 347.1,71.3 347.6,70.4 348.1,69.6 348.6,68.7 349.0,67.9 349.4,67.1 349.8,66.3 350.1,65.5 350.5,64.7 350.8,63.8 351.2,62.9 351.5,62.1 351.8,61.2 352.1,60.4 352.4,59.5 352.6,58.6 352.9,57.8 353.1,56.9 353.4,56.0 353.6,55.1 353.9,54.2 354.1,53.3 354.3,52.5 354.5,51.5 354.8,50.6 355.0,49.6 355.2,48.7 355.4,47.7 355.6,46.8 355.9,45.9 356.1,45.0 356.3,44.0 356.5,43.0 356.6,42.0 356.8,41.0 357.0,40.1 357.4,39.3 358.0,38.7 358.6,38.4 359.3,38.1 360.2,38.0 361.1,38.0 362.1,38.0 363.1,38.1 364.2,38.2 365.3,38.3 366.4,38.5 367.5,38.6 368.5,38.7 369.5,38.7 370.5,38.7 371.5,38.7 372.4,38.7 373.4,38.7 374.4,38.7 375.3,38.7 376.3,38.7 377.2,38.7 378.2,38.7 379.2,38.7 380.1,38.7 381.1,38.7 382.1,38.7 383.0,38.7 384.0,38.7 384.9,38.7 385.9,38.7 386.9,38.7 387.8,38.7 388.8,38.7 389.7,38.7 390.7,38.7 391.7,38.7 392.6,38.7 393.6,38.7 394.6,38.7 395.5,38.7 396.5,38.7 397.4,38.7 398.4,38.7 399.4,38.7 400.3,38.7 401.3,38.7 402.3,38.7 403.2,38.7 404.2,38.7 405.1,38.7 406.1,38.7 407.1,38.7 408.0,38.7 409.0,38.7 410.0,38.7 410.9,38.7 411.9,38.7 412.8,38.7 413.8,38.7 414.8,38.7 415.7,38.7 416.7,38.7 417.6,38.7 418.6,38.7 419.6,38.7 420.5,38.7 421.5,38.7 422.5,38.7 423.4,38.7 424.4,38.7 425.3,38.7 426.3,38.7 427.3,38.7 428.2,38.7 429.2,38.7 430.2,38.7 431.1,38.7 432.1,38.7 433.0,38.7 434.0,38.7 435.0,38.7 435.9,38.7 436.9,38.7 437.8,38.7 438.8,38.7 439.8,38.7 440.7,38.7 441.7,38.7 442.7,38.7 443.6,38.7 444.6,38.7 445.5,38.7 446.5,38.7 447.5,38.7 448.4,38.7 449.4,38.7 450.4,38.7 451.3,38.7 452.3,38.7 453.2,38.7 454.2,38.7 455.2,38.7 456.1,38.7 457.1,38.7 458.1,38.7 459.0,38.7 460.0,38.7 460.9,38.7 461.9,38.7" fill="none" stroke="#f59a4f" stroke-width="1.1" stroke-dasharray="2.9 2.7" stroke-dashoffset="0" stroke-linejoin="round" />
<path d="M273.1,38.6 274.0,39.0 275.0,39.5 275.9,40.0 276.9,40.4 277.8,40.9 278.7,41.3 279.6,41.7 280.4,42.1 281.4,42.5 282.3,42.9 283.2,43.3 284.1,43.7 285.0,44.1 285.8,44.5 286.6,44.9 287.4,45.4 288.2,45.9 289.0,46.4 289.8,46.8 290.5,47.3 291.3,47.8 292.0,48.4 292.7,48.9 293.4,49.5 294.1,50.0 295.0,50.5 295.9,51.1 296.8,51.6 297.7,52.1 298.6,52.7 299.4,53.3 300.2,53.8 300.9,54.5 301.7,55.1 302.5,55.7 303.2,56.4 303.9,57.0 304.5,57.6 305.2,58.3 305.8,58.9 306.5,59.6 307.1,60.2 307.7,60.9 308.4,61.6 309.0,62.4 309.6,63.2 310.3,63.9 310.8,64.7 311.4,65.5 312.0,66.4 312.6,67.2 313.1,68.1 313.6,69.0 314.1,70.0 314.5,70.8 314.9,71.7 315.3,72.7 315.7,73.6 316.0,74.5 316.4,75.5 316.8,76.4 317.2,77.3 317.6,78.2 318.0,79.1 318.3,80.0 318.7,80.9 319.1,81.8 319.5,82.7 319.9,83.6 320.2,84.5 320.6,85.4 320.9,86.3 321.3,87.3 321.6,88.2 321.9,89.1 322.3,90.0 322.7,91.0 323.1,91.9 323.4,92.8 323.8,93.8 324.2,94.7 324.6,95.6 325.0,96.5 325.4,97.4 325.8,98.3 326.2,99.1 326.6,100.0 327.1,100.9 327.5,101.7 328.0,102.5 328.5,103.4 329.1,104.3 329.6,105.2 330.2,106.0 330.8,106.8 331.5,107.5 332.3,108.2 333.1,108.9 334.0,109.5 334.9,109.9 335.8,110.2 336.8,110.3 337.9,110.1 339.0,109.8 340.0,109.3 340.7,108.9 341.5,108.4 342.2,107.8 342.9,107.1 343.6,106.4 344.3,105.7 345.0,105.0 345.6,104.4 346.2,103.7 346.8,103.0 347.3,102.2 347.9,101.5 348.5,100.7 349.0,100.0 349.5,99.2 350.0,98.5 350.5,97.7 351.0,96.9 351.5,96.1 351.9,95.3 352.4,94.6 352.8,93.8 353.3,93.0 353.8,92.2 354.2,91.5 354.7,90.7 355.1,89.9 355.6,89.2 356.1,88.4 356.6,87.5 357.0,86.8 357.5,86.0 358.0,85.2 358.5,84.4 359.0,83.6 359.5,82.8 360.0,81.9 360.4,81.1 360.9,80.3 361.4,79.5 361.8,78.8 362.3,77.9 362.8,77.0 363.3,76.2 363.7,75.3 364.1,74.5 364.6,73.7 365.0,73.0 365.6,72.1 366.1,71.3 366.7,70.5 367.3,69.5 367.7,68.9 368.1,68.2 368.5,67.4 369.0,66.7 369.4,65.8 369.9,65.0 370.4,64.2 370.9,63.3 371.3,62.5 371.8,61.6 372.3,60.9 372.8,60.1 373.3,59.3 373.8,58.5 374.4,57.7 374.9,56.9 375.4,56.1 376.0,55.3 376.5,54.6 377.1,53.9 377.6,53.2 378.2,52.5 378.8,51.8 379.5,51.1 380.2,50.5 380.9,49.8 381.5,49.2 382.2,48.7 383.0,48.1 383.7,47.6 384.5,47.0 385.4,46.5 386.3,46.0 387.2,45.5 388.1,45.1 389.0,44.7 390.0,44.3 390.9,44.0 391.8,43.8 392.8,43.6 393.7,43.4 394.7,43.3 395.7,43.1 396.7,43.0 397.7,42.9 398.6,42.8 399.5,42.7 400.4,42.7 401.3,42.7 402.2,42.6 403.1,42.6 404.1,42.6 405.0,42.6 405.9,42.5 406.9,42.5 407.8,42.5 408.7,42.4 409.6,42.4 410.5,42.3 411.4,42.3 412.3,42.2 413.2,42.2 414.1,42.2 415.0,42.1 416.0,42.1 416.9,42.1 417.8,42.1 418.8,42.1 419.7,42.1 420.7,42.1 421.7,42.1 422.6,42.1 423.6,42.1 424.6,42.1 425.5,42.1 426.5,42.1 427.5,42.1 428.4,42.1 429.4,42.1 430.3,42.1 431.3,42.1 432.3,42.1 433.2,42.1 434.2,42.1 435.1,42.1 436.1,42.1 437.0,42.1 438.0,42.1 439.0,42.0 439.9,42.0 440.9,42.0 441.8,42.0 442.8,42.0 443.7,42.0 444.7,42.0 445.6,42.0 446.6,42.0 447.6,42.0 448.5,42.0 449.5,42.0 450.4,42.0 451.4,42.0 452.3,42.0 453.3,42.0 454.2,42.0 455.2,42.0 456.2,42.0 457.1,42.0 458.1,42.0 459.0,42.0 460.0,42.0 460.9,42.0 461.9,42.0" fill="none" stroke="#3a3a3a" stroke-width="1.1" stroke-linejoin="round" />
<path d="M273.1,38.9 274.0,39.3 275.0,39.8 275.9,40.3 276.9,40.7 277.8,41.2 278.7,41.6 279.6,42.0 280.4,42.4 281.4,42.8 282.3,43.2 283.2,43.6 284.1,44.0 285.0,44.4 285.8,44.8 286.6,45.2 287.4,45.6 288.2,46.1 289.0,46.6 289.8,47.1 290.5,47.6 291.3,48.2 292.1,48.9 292.9,49.6 293.6,50.3 294.3,51.0 295.0,51.7 295.7,52.4 296.3,53.2 296.9,53.9 297.5,54.7 298.1,55.4 298.6,56.2 299.2,57.1 299.8,58.0 300.4,58.9 300.9,59.8 301.4,60.8 301.8,61.7 302.2,62.7 302.6,63.6 302.9,64.7 303.2,65.7 303.6,66.7 303.9,67.6 304.2,68.4 304.5,69.3 304.8,70.2 305.1,71.1 305.3,72.0 305.6,73.0 305.9,73.9 306.2,74.8 306.4,75.7 306.7,76.6 306.9,77.5 307.2,78.4 307.4,79.3 307.7,80.3 307.9,81.2 308.2,82.1 308.5,83.0 308.7,83.9 309.0,84.8 309.2,85.7 309.5,86.6 309.7,87.5 310.0,88.4 310.2,89.4 310.5,90.3 310.7,91.2 311.0,92.1 311.2,93.0 311.4,94.0 311.6,94.9 311.9,95.9 312.1,96.8 312.4,97.7 312.6,98.6 312.9,99.5 313.2,100.3 313.6,101.2 313.9,102.1 314.4,103.0 314.8,103.9 315.2,104.7 315.6,105.5 316.1,106.2 316.5,106.8 317.3,107.8 318.1,108.6 319.0,109.2 320.1,109.7 321.2,109.9 322.0,109.7 322.8,109.4 323.6,108.9 324.5,108.3 325.1,107.8 325.8,107.2 326.5,106.5 327.2,105.7 327.9,104.9 328.6,104.1 329.3,103.3 329.9,102.5 330.6,101.7 331.2,101.0 331.8,100.2 332.4,99.5 333.0,98.7 333.6,98.0 334.2,97.2 334.8,96.5 335.4,95.8 336.0,95.1 336.6,94.4 337.3,93.7 337.9,93.0 338.5,92.4 339.1,91.7 339.8,91.1 340.4,90.4 341.0,89.7 341.6,89.0 342.3,88.3 342.9,87.6 343.5,86.8 344.1,86.1 344.7,85.4 345.4,84.6 346.0,83.9 346.6,83.2 347.2,82.5 347.8,81.7 348.5,81.0 349.1,80.3 349.7,79.6 350.3,78.8 350.9,78.2 351.4,77.5 352.1,76.6 352.7,75.7 353.3,74.9 353.9,74.1 354.5,73.3 355.2,72.4 355.8,71.6 356.4,70.7 357.0,69.8 357.4,69.0 357.8,68.1 358.2,67.2 358.6,66.3 359.0,65.3 359.4,64.5 359.8,63.6 360.2,62.8 360.6,61.9 361.0,61.0 361.4,60.1 361.8,59.3 362.2,58.4 362.7,57.6 363.1,56.7 363.6,55.9 364.0,55.1 364.5,54.3 365.0,53.5 365.5,52.8 366.1,52.1 366.6,51.3 367.3,50.6 367.9,50.0 368.5,49.3 369.2,48.7 369.9,48.0 370.6,47.4 371.3,46.8 372.1,46.2 372.8,45.7 373.6,45.2 374.5,44.7 375.4,44.3 376.2,43.9 377.1,43.6 378.0,43.3 378.9,43.0 379.8,42.8 380.7,42.6 381.6,42.4 382.6,42.3 383.7,42.1 384.5,42.0 385.4,41.9 386.3,41.8 387.2,41.7 388.2,41.6 389.2,41.5 390.2,41.5 391.2,41.4 392.2,41.3 393.2,41.3 394.1,41.2 395.0,41.2 396.0,41.2 396.9,41.1 397.9,41.1 398.8,41.1 399.7,41.1 400.6,41.1 401.5,41.1 402.4,41.1 403.3,41.1 404.3,41.1 405.2,41.1 406.1,41.1 407.0,41.1 408.0,41.0 408.9,41.0 409.8,41.0 410.7,41.0 411.7,41.0 412.6,41.0 413.5,41.0 414.4,41.0 415.3,41.0 416.2,40.9 417.2,40.9 418.1,40.9 419.0,40.9 420.0,40.9 420.9,40.9 421.8,40.9 422.8,40.9 423.7,40.9 424.7,40.9 425.6,40.9 426.6,40.9 427.6,40.9 428.6,40.9 429.5,40.9 430.5,40.9 431.4,40.9 432.4,40.9 433.3,40.9 434.3,40.9 435.2,40.9 436.2,40.9 437.1,40.9 438.1,40.9 439.0,40.9 440.0,40.9 440.9,40.9 441.9,40.9 442.9,40.9 443.8,40.9 444.8,40.9 445.7,40.9 446.7,40.9 447.6,40.9 448.6,40.9 449.5,40.9 450.5,40.9 451.4,40.9 452.4,40.9 453.3,40.9 454.3,40.9 455.2,40.9 456.2,40.9 457.1,40.9 458.1,40.9 459.0,40.9 460.0,40.9 460.9,40.9 461.9,40.9" fill="none" stroke="#86c45e" stroke-width="1.1" stroke-linejoin="round" />
<path d="M273.1,38.6 274.0,39.0 275.0,39.5 275.9,40.0 276.9,40.4 277.8,40.9 278.7,41.3 279.6,41.7 280.4,42.1 281.4,42.5 282.3,42.9 283.2,43.3 284.1,43.7 285.0,44.1 285.8,44.5 286.6,44.9 287.4,45.3 288.2,45.8 289.0,46.3 289.8,46.8 290.5,47.3 291.3,47.9 292.1,48.6 292.9,49.3 293.6,50.0 294.3,50.7 295.0,51.4 295.7,52.1 296.3,52.9 296.9,53.6 297.5,54.4 298.1,55.1 298.6,55.9 299.2,56.8 299.8,57.7 300.4,58.6 300.9,59.5 301.4,60.5 301.8,61.4 302.2,62.4 302.6,63.3 302.9,64.4 303.2,65.4 303.6,66.4 303.9,67.3 304.2,68.1 304.5,69.0 304.8,69.9 305.1,70.8 305.3,71.7 305.6,72.7 305.9,73.6 306.2,74.5 306.4,75.4 306.7,76.3 306.9,77.2 307.2,78.1 307.4,79.0 307.7,80.0 307.9,80.9 308.2,81.8 308.5,82.7 308.7,83.6 309.0,84.5 309.2,85.4 309.5,86.3 309.7,87.2 310.0,88.1 310.2,89.1 310.5,90.0 310.7,90.9 311.0,91.8 311.2,92.7 311.4,93.7 311.6,94.6 311.9,95.6 312.1,96.5 312.4,97.4 312.6,98.3 312.9,99.2 313.2,100.0 313.6,100.9 313.9,101.8 314.4,102.7 314.8,103.6 315.2,104.4 315.6,105.2 316.1,105.9 316.5,106.5 317.3,107.5 318.1,108.3 319.0,108.9 320.1,109.4 321.2,109.6 322.0,109.4 322.8,109.1 323.6,108.6 324.5,108.0 325.1,107.5 325.8,106.9 326.5,106.2 327.2,105.4 327.9,104.6 328.6,103.8 329.3,103.0 329.9,102.2 330.6,101.4 331.2,100.7 331.8,99.9 332.4,99.2 333.0,98.4 333.6,97.7 334.2,96.9 334.8,96.2 335.4,95.5 336.0,94.8 336.6,94.1 337.3,93.4 337.9,92.7 338.5,92.1 339.1,91.4 339.8,90.8 340.4,90.1 341.0,89.4 341.6,88.7 342.3,88.0 342.9,87.3 343.5,86.5 344.1,85.8 344.7,85.1 345.4,84.3 346.0,83.6 346.6,82.9 347.2,82.2 347.8,81.4 348.5,80.7 349.1,80.0 349.7,79.3 350.3,78.5 350.9,77.9 351.4,77.2 352.1,76.3 352.7,75.4 353.3,74.6 353.9,73.8 354.5,73.0 355.2,72.1 355.8,71.3 356.4,70.4 357.0,69.5 357.4,68.7 357.8,67.8 358.2,66.9 358.6,66.0 359.0,65.0 359.4,64.2 359.8,63.3 360.2,62.5 360.6,61.6 361.0,60.7 361.4,59.8 361.8,59.0 362.2,58.1 362.7,57.3 363.1,56.4 363.6,55.6 364.0,54.8 364.5,54.0 365.0,53.2 365.5,52.5 366.1,51.8 366.6,51.0 367.3,50.3 367.9,49.7 368.5,49.0 369.2,48.4 369.9,47.7 370.6,47.1 371.3,46.5 372.1,45.9 372.8,45.4 373.6,44.9 374.5,44.4 375.4,44.0 376.2,43.6 377.1,43.3 378.0,43.0 378.9,42.7 379.8,42.5 380.7,42.3 381.6,42.1 382.6,42.0 383.7,41.8 384.5,41.7 385.4,41.6 386.3,41.5 387.2,41.4 388.2,41.3 389.2,41.2 390.2,41.2 391.2,41.1 392.2,41.0 393.2,41.0 394.1,40.9 395.0,40.9 396.0,40.9 396.9,40.8 397.9,40.8 398.8,40.8 399.7,40.8 400.6,40.8 401.5,40.8 402.4,40.8 403.3,40.8 404.3,40.8 405.2,40.8 406.1,40.8 407.0,40.8 408.0,40.7 408.9,40.7 409.8,40.7 410.7,40.7 411.7,40.7 412.6,40.7 413.5,40.7 414.4,40.7 415.3,40.7 416.2,40.6 417.2,40.6 418.1,40.6 419.0,40.6 420.0,40.6 420.9,40.6 421.8,40.6 422.8,40.6 423.7,40.6 424.7,40.6 425.6,40.6 426.6,40.6 427.6,40.6 428.6,40.6 429.5,40.6 430.5,40.6 431.4,40.6 432.4,40.6 433.3,40.6 434.3,40.6 435.2,40.6 436.2,40.6 437.1,40.6 438.1,40.6 439.0,40.6 440.0,40.6 440.9,40.6 441.9,40.6 442.9,40.6 443.8,40.6 444.8,40.6 445.7,40.6 446.7,40.6 447.6,40.6 448.6,40.6 449.5,40.6 450.5,40.6 451.4,40.6 452.4,40.6 453.3,40.6 454.3,40.6 455.2,40.6 456.2,40.6 457.1,40.6 458.1,40.6 459.0,40.6 460.0,40.6 460.9,40.6 461.9,40.6" fill="none" stroke="#3f9fd6" stroke-width="1.2" stroke-linejoin="round" />
<path d="M273.1,38.3 274.0,38.7 275.0,39.2 275.9,39.7 276.9,40.1 277.8,40.6 278.7,41.0 279.6,41.4 280.4,41.8 281.4,42.2 282.3,42.6 283.2,43.0 284.1,43.4 285.0,43.8 285.8,44.2 286.6,44.6 287.4,45.0 288.2,45.5 289.0,46.0 289.8,46.5 290.5,47.0 291.3,47.6 292.1,48.3 292.9,49.0 293.6,49.7 294.3,50.4 295.0,51.1 295.7,51.8 296.3,52.6 296.9,53.3 297.5,54.1 298.1,54.8 298.6,55.6 299.2,56.5 299.8,57.4 300.4,58.3 300.9,59.2 301.4,60.2 301.8,61.1 302.2,62.1 302.6,63.0 302.9,64.1 303.2,65.1 303.6,66.1 303.9,67.0 304.2,67.8 304.5,68.7 304.8,69.6 305.1,70.5 305.3,71.4 305.6,72.4 305.9,73.3 306.2,74.2 306.4,75.1 306.7,76.0 306.9,76.9 307.2,77.8 307.4,78.7 307.7,79.7 307.9,80.6 308.2,81.5 308.5,82.4 308.7,83.3 309.0,84.2 309.2,85.1 309.5,86.0 309.7,86.9 310.0,87.8 310.2,88.8 310.5,89.7 310.7,90.6 311.0,91.5 311.2,92.4 311.4,93.4 311.6,94.3 311.9,95.3 312.1,96.2 312.4,97.1 312.6,98.0 312.9,98.9 313.2,99.7 313.6,100.6 313.9,101.5 314.4,102.4 314.8,103.3 315.2,104.1 315.6,104.9 316.1,105.6 316.5,106.2 317.3,107.2 318.1,108.0 319.0,108.6 320.1,109.1 321.2,109.3 322.0,109.1 322.8,108.8 323.6,108.3 324.5,107.7 325.1,107.2 325.8,106.6 326.5,105.9 327.2,105.1 327.9,104.3 328.6,103.5 329.3,102.7 329.9,101.9 330.6,101.1 331.2,100.4 331.8,99.6 332.4,98.9 333.0,98.1 333.6,97.4 334.2,96.6 334.8,95.9 335.4,95.2 336.0,94.5 336.6,93.8 337.3,93.1 337.9,92.4 338.5,91.8 339.1,91.1 339.8,90.5 340.4,89.8 341.0,89.1 341.6,88.4 342.3,87.7 342.9,87.0 343.5,86.2 344.1,85.5 344.7,84.8 345.4,84.0 346.0,83.3 346.6,82.6 347.2,81.9 347.8,81.1 348.5,80.4 349.1,79.7 349.7,79.0 350.3,78.2 350.9,77.6 351.4,76.9 352.1,76.0 352.7,75.1 353.3,74.3 353.9,73.5 354.5,72.7 355.2,71.8 355.8,71.0 356.4,70.1 357.0,69.2 357.4,68.4 357.8,67.5 358.2,66.6 358.6,65.7 359.0,64.7 359.4,63.9 359.8,63.0 360.2,62.2 360.6,61.3 361.0,60.4 361.4,59.5 361.8,58.7 362.2,57.8 362.7,57.0 363.1,56.1 363.6,55.3 364.0,54.5 364.5,53.7 365.0,52.9 365.5,52.2 366.1,51.5 366.6,50.7 367.3,50.0 367.9,49.4 368.5,48.7 369.2,48.1 369.9,47.4 370.6,46.8 371.3,46.2 372.1,45.6 372.8,45.1 373.6,44.6 374.5,44.1 375.4,43.7 376.2,43.3 377.1,43.0 378.0,42.7 378.9,42.4 379.8,42.2 380.7,42.0 381.6,41.8 382.6,41.7 383.7,41.5 384.5,41.4 385.4,41.3 386.3,41.2 387.2,41.1 388.2,41.0 389.2,40.9 390.2,40.9 391.2,40.8 392.2,40.7 393.2,40.7 394.1,40.6 395.0,40.6 396.0,40.6 396.9,40.5 397.9,40.5 398.8,40.5 399.7,40.5 400.6,40.5 401.5,40.5 402.4,40.5 403.3,40.5 404.3,40.5 405.2,40.5 406.1,40.5 407.0,40.5 408.0,40.4 408.9,40.4 409.8,40.4 410.7,40.4 411.7,40.4 412.6,40.4 413.5,40.4 414.4,40.4 415.3,40.4 416.2,40.3 417.2,40.3 418.1,40.3 419.0,40.3 420.0,40.3 420.9,40.3 421.8,40.3 422.8,40.3 423.7,40.3 424.7,40.3 425.6,40.3 426.6,40.3 427.6,40.3 428.6,40.3 429.5,40.3 430.5,40.3 431.4,40.3 432.4,40.3 433.3,40.3 434.3,40.3 435.2,40.3 436.2,40.3 437.1,40.3 438.1,40.3 439.0,40.3 440.0,40.3 440.9,40.3 441.9,40.3 442.9,40.3 443.8,40.3 444.8,40.3 445.7,40.3 446.7,40.3 447.6,40.3 448.6,40.3 449.5,40.3 450.5,40.3 451.4,40.3 452.4,40.3 453.3,40.3 454.3,40.3 455.2,40.3 456.2,40.3 457.1,40.3 458.1,40.3 459.0,40.3 460.0,40.3 460.9,40.3 461.9,40.3" fill="none" stroke="#a458c0" stroke-width="1.0" stroke-linejoin="round" />
<path d="M273.1,38.6 274.0,39.0 275.0,39.5 275.9,40.0 276.9,40.4 277.8,40.9 278.7,41.3 279.6,41.7 280.4,42.1 281.4,42.5 282.3,42.9 283.2,43.3 284.1,43.7 285.0,44.1 285.9,44.6 286.8,45.1 287.7,45.6 288.6,46.2 289.5,46.8 290.3,47.4 291.1,48.1 291.9,48.7 292.6,49.4 293.4,50.2 294.1,50.9 294.8,51.6 295.4,52.4 296.0,53.2 296.6,53.9 297.1,54.7 297.7,55.5 298.3,56.4 298.9,57.3 299.5,58.1 300.0,59.1 300.5,60.0 300.9,60.9 301.3,61.8 301.7,62.7 302.0,63.6 302.4,64.5 302.7,65.5 303.0,66.4 303.3,67.2 303.5,68.1 303.8,69.0 304.0,69.9 304.3,70.8 304.5,71.8 304.7,72.7 304.9,73.5 305.2,74.4 305.4,75.3 305.6,76.2 305.8,77.2 306.0,78.1 306.2,79.0 306.4,80.0 306.6,80.9 306.7,81.8 306.9,82.7 307.1,83.6 307.2,84.5 307.4,85.5 307.5,86.4 307.7,87.3 307.9,88.2 308.0,89.1 308.2,90.0 308.4,91.0 308.6,92.0 308.8,93.0 309.0,94.0 309.2,94.9 309.4,95.9 309.7,96.8 309.9,97.7 310.2,98.5 310.5,99.5 310.9,100.4 311.3,101.3 311.6,102.1 312.1,102.9 312.5,103.6 313.3,104.6 314.1,105.4 315.0,106.1 316.0,106.6 317.1,106.9 318.1,107.0 319.1,106.7 320.2,106.1 321.2,105.3 321.8,104.7 322.4,104.0 323.0,103.1 323.6,102.2 324.2,101.3 324.8,100.4 325.4,99.6 326.0,98.8 326.6,98.1 327.3,97.3 327.9,96.5 328.6,95.8 329.3,95.0 329.9,94.2 330.6,93.5 331.2,92.8 331.9,92.1 332.6,91.4 333.2,90.7 333.9,90.0 334.5,89.3 335.2,88.6 335.8,87.9 336.4,87.2 337.0,86.5 337.6,85.8 338.1,85.1 338.7,84.4 339.3,83.7 339.9,83.0 340.5,82.3 341.1,81.6 341.7,81.0 342.4,80.4 343.0,79.7 343.7,79.1 344.4,78.4 345.0,77.7 345.6,77.0 346.2,76.3 346.7,75.6 347.2,74.8 347.7,74.0 348.2,73.2 348.6,72.4 349.1,71.6 349.6,70.8 350.0,70.0 350.4,69.3 350.9,68.6 351.5,67.7 352.1,66.9 352.7,66.1 353.3,65.3 353.9,64.5 354.5,63.8 355.1,63.0 355.7,62.3 356.4,61.6 356.9,60.8 357.5,60.1 358.1,59.2 358.7,58.3 359.2,57.4 359.8,56.5 360.3,55.7 360.8,54.9 361.3,54.1 361.8,53.3 362.4,52.4 363.1,51.5 363.8,50.6 364.5,49.8 365.2,49.1 365.8,48.4 366.5,47.7 367.3,47.0 368.0,46.4 368.7,45.9 369.5,45.2 370.3,44.7 371.1,44.1 372.0,43.6 372.8,43.2 373.8,42.8 374.8,42.5 375.9,42.3 376.9,42.2 378.0,42.0 378.9,41.8 379.8,41.7 380.7,41.6 381.6,41.5 382.6,41.4 383.7,41.3 384.5,41.2 385.4,41.2 386.3,41.1 387.2,41.1 388.2,41.0 389.2,41.0 390.2,40.9 391.2,40.9 392.2,40.9 393.2,40.9 394.1,40.8 395.0,40.8 396.0,40.8 396.9,40.8 397.9,40.8 398.8,40.7 399.7,40.7 400.6,40.7 401.5,40.7 402.4,40.7 403.3,40.7 404.3,40.7 405.2,40.7 406.1,40.7 407.0,40.7 408.0,40.7 408.9,40.7 409.8,40.7 410.7,40.7 411.7,40.7 412.6,40.7 413.5,40.7 414.4,40.6 415.3,40.6 416.2,40.6 417.2,40.6 418.1,40.6 419.0,40.6 420.0,40.6 420.9,40.6 421.8,40.6 422.8,40.6 423.7,40.6 424.7,40.6 425.6,40.6 426.6,40.6 427.6,40.6 428.6,40.6 429.5,40.6 430.5,40.6 431.4,40.6 432.4,40.6 433.3,40.6 434.3,40.6 435.2,40.6 436.2,40.6 437.1,40.6 438.1,40.6 439.0,40.6 440.0,40.6 440.9,40.6 441.9,40.6 442.9,40.6 443.8,40.6 444.8,40.6 445.7,40.6 446.7,40.6 447.6,40.6 448.6,40.6 449.5,40.6 450.5,40.6 451.4,40.6 452.4,40.6 453.3,40.6 454.3,40.6 455.2,40.6 456.2,40.6 457.1,40.6 458.1,40.6 459.0,40.6 460.0,40.6 460.9,40.6 461.9,40.6" fill="none" stroke="#f59a4f" stroke-width="1.1" stroke-linejoin="round" />
<path d="M54.5,158.6 55.4,158.8 56.2,159.1 56.7,159.7 57.3,160.4 57.8,161.3 58.2,162.3 58.7,163.3 59.1,164.2 59.5,165.1 59.8,166.1 60.2,167.1 60.5,168.1 60.8,169.2 61.0,170.1 61.2,171.0 61.4,171.9 61.6,172.9 61.8,173.8 61.9,174.8 62.1,175.7 62.3,176.6 62.5,177.5 62.8,178.6 63.0,179.6 63.3,180.6 63.5,181.5 63.8,182.4 64.2,183.3 64.7,184.3 65.2,185.3 65.8,186.1 66.5,186.8 67.3,187.4 68.1,187.9 69.0,188.1 69.8,187.9 70.7,187.5 71.5,186.9 72.2,186.3 72.9,185.6 73.5,184.8 74.3,184.0 74.9,183.4 75.5,182.8 76.1,182.1 76.8,181.5 77.5,180.8 78.2,180.1 78.8,179.4 79.5,178.8 80.2,178.1 81.0,177.4 81.7,176.7 82.4,176.0 83.2,175.4 83.9,174.7 84.7,174.1 85.4,173.5 86.2,173.0 86.9,172.5 87.6,171.9 88.4,171.4 89.1,171.0 89.9,170.5 90.8,170.0 91.6,169.6 92.5,169.1 93.4,168.7 94.2,168.3 95.1,167.9 95.9,167.5 96.8,167.1 97.6,166.8 98.5,166.4 99.4,166.1 100.3,165.8 101.1,165.6 102.0,165.3 102.9,165.1 103.8,164.9 104.8,164.7 105.7,164.6 106.7,164.4 107.6,164.2 108.5,164.0 109.4,163.8 110.3,163.7 111.2,163.5 112.2,163.3 113.1,163.2 114.0,163.0 115.0,162.9 116.0,162.7 116.9,162.6 117.8,162.5 118.7,162.3 119.7,162.2 120.6,162.1 121.6,162.0 122.6,161.9 123.5,161.8 124.4,161.7 125.3,161.6 126.1,161.5 126.8,161.4 128.0,161.3 129.1,161.1 130.1,161.0 131.2,160.9 132.1,160.8 133.1,160.8 134.0,160.7 135.1,160.6 136.1,160.6 137.1,160.5 138.1,160.4 139.1,160.4 140.0,160.3 141.0,160.2 142.0,160.2 143.0,160.1 144.0,160.1 145.0,160.0 145.9,160.0 146.9,159.9 147.8,159.9 148.8,159.9 149.8,159.8 150.8,159.8 151.7,159.8 152.7,159.7 153.7,159.7 154.7,159.7 155.6,159.6 156.6,159.6 157.5,159.6 158.5,159.5 159.4,159.5 160.4,159.5 161.4,159.4 162.4,159.4 163.3,159.4 164.2,159.4 165.2,159.3 166.1,159.3 167.1,159.3 168.0,159.3 169.0,159.3 169.9,159.3 170.9,159.3 171.8,159.2 172.8,159.2 173.7,159.2 174.7,159.2 175.6,159.2 176.5,159.2 177.5,159.2 178.4,159.1 179.4,159.1 180.3,159.1 181.2,159.1 182.2,159.1 183.1,159.1 184.1,159.1 185.0,159.0 186.0,159.0 186.9,159.0 187.9,159.0 188.8,159.0 189.7,159.0 190.7,158.9 191.6,158.9 192.6,158.9 193.5,158.9 194.4,158.9 195.3,158.9 196.2,158.9 197.1,158.9 198.0,158.9 199.0,158.9 199.9,158.9 200.8,158.9 201.7,158.9 202.6,158.9 203.5,158.9 204.4,158.9 205.3,158.9 206.2,158.8 207.1,158.8 208.0,158.8 208.9,158.8 209.8,158.8 210.7,158.8 211.6,158.8 212.6,158.8 213.5,158.8 214.4,158.8 215.3,158.8 216.2,158.8 217.1,158.8 218.0,158.8 218.9,158.8 219.8,158.8 220.7,158.8 221.6,158.8 222.5,158.8 223.4,158.8 224.3,158.8 225.3,158.8 226.2,158.8 227.1,158.8 228.0,158.8 228.9,158.8 229.8,158.8 230.7,158.8 231.6,158.7 232.5,158.7 233.4,158.7 234.3,158.7 235.2,158.7 236.1,158.7 237.0,158.7 238.0,158.7 238.9,158.7 239.8,158.7 240.7,158.7 241.6,158.7 242.5,158.7 243.4,158.7" fill="none" stroke="#3a3a3a" stroke-width="1.1" stroke-dasharray="6.2 1.4 0.7 1.5" stroke-dashoffset="0" stroke-linejoin="round" />
<path d="M54.5,158.6 55.4,158.7 56.2,159.0 56.9,159.7 57.5,160.6 58.1,161.6 58.7,162.7 59.1,163.6 59.5,164.5 59.8,165.5 60.2,166.5 60.5,167.5 60.8,168.6 61.0,169.5 61.2,170.3 61.4,171.3 61.6,172.2 61.8,173.1 62.0,174.1 62.1,175.0 62.3,176.0 62.5,176.9 62.7,177.8 62.9,178.8 63.0,179.7 63.2,180.6 63.4,181.6 63.6,182.5 63.8,183.4 64.0,184.3 64.2,185.2 64.5,186.2 64.7,187.2 65.0,188.2 65.3,189.2 65.6,190.1 65.9,191.0 66.2,191.8 66.7,192.8 67.2,193.8 67.7,194.6 68.3,195.2 69.3,195.6 70.4,195.6 71.3,195.3 72.2,194.7 73.0,194.0 73.8,193.3 74.6,192.6 75.4,191.7 75.9,191.1 76.4,190.4 76.9,189.6 77.4,188.8 77.9,188.0 78.5,187.1 79.0,186.3 79.5,185.5 80.0,184.7 80.5,183.9 81.0,183.1 81.6,182.2 82.1,181.4 82.6,180.7 83.1,179.9 83.7,179.2 84.4,178.4 85.0,177.7 85.7,177.1 86.4,176.4 87.1,175.8 87.8,175.1 88.5,174.5 89.2,173.9 89.9,173.2 90.7,172.6 91.4,172.0 92.2,171.5 93.0,170.9 93.7,170.4 94.5,169.9 95.3,169.5 96.1,169.0 96.9,168.5 97.7,168.1 98.5,167.7 99.3,167.3 100.2,166.9 101.1,166.5 101.9,166.1 102.8,165.7 103.7,165.3 104.6,165.0 105.5,164.7 106.4,164.4 107.3,164.2 108.2,163.9 109.1,163.7 110.0,163.5 110.9,163.3 111.7,163.1 112.8,162.9 113.8,162.7 114.8,162.6 116.0,162.4 116.7,162.3 117.6,162.2 118.5,162.1 119.4,161.9 120.4,161.8 121.4,161.7 122.4,161.6 123.4,161.4 124.3,161.3 125.2,161.2 126.1,161.1 126.8,161.0 128.0,160.9 129.1,160.8 130.1,160.6 131.2,160.5 132.1,160.5 133.1,160.4 134.0,160.4 135.1,160.3 136.1,160.2 137.1,160.2 138.1,160.1 139.1,160.1 140.0,160.0 141.0,160.0 142.0,159.9 143.0,159.8 144.0,159.8 145.0,159.7 145.9,159.7 146.9,159.7 147.8,159.6 148.8,159.6 149.8,159.6 150.8,159.6 151.7,159.5 152.7,159.5 153.7,159.5 154.7,159.5 155.6,159.4 156.6,159.4 157.5,159.4 158.5,159.4 159.4,159.3 160.4,159.3 161.4,159.3 162.4,159.3 163.3,159.2 164.2,159.2 165.2,159.2 166.1,159.2 167.1,159.2 168.0,159.2 169.0,159.2 169.9,159.2 170.9,159.1 171.8,159.1 172.8,159.1 173.7,159.1 174.7,159.1 175.6,159.1 176.5,159.1 177.5,159.1 178.4,159.1 179.4,159.0 180.3,159.0 181.2,159.0 182.2,159.0 183.1,159.0 184.1,159.0 185.0,159.0 186.0,159.0 186.9,158.9 187.9,158.9 188.8,158.9 189.7,158.9 190.7,158.9 191.6,158.9 192.6,158.9 193.5,158.9 194.4,158.9 195.3,158.8 196.2,158.8 197.1,158.8 198.0,158.8 199.0,158.8 199.9,158.8 200.8,158.8 201.7,158.8 202.6,158.8 203.5,158.8 204.4,158.8 205.3,158.8 206.2,158.8 207.1,158.8 208.0,158.8 208.9,158.8 209.8,158.8 210.7,158.8 211.6,158.8 212.6,158.8 213.5,158.8 214.4,158.8 215.3,158.8 216.2,158.8 217.1,158.8 218.0,158.8 218.9,158.8 219.8,158.8 220.7,158.8 221.6,158.8 222.5,158.8 223.4,158.8 224.3,158.8 225.3,158.8 226.2,158.8 227.1,158.8 228.0,158.7 228.9,158.7 229.8,158.7 230.7,158.7 231.6,158.7 232.5,158.7 233.4,158.7 234.3,158.7 235.2,158.7 236.1,158.7 237.0,158.7 238.0,158.7 238.9,158.7 239.8,158.7 240.7,158.7 241.6,158.7 242.5,158.7 243.4,158.7" fill="none" stroke="#86c45e" stroke-width="1.0" stroke-dasharray="6.2 1.4 0.7 1.5" stroke-dashoffset="1" stroke-linejoin="round" />
<path d="M54.5,158.6 55.4,158.7 56.2,159.1 56.7,159.6 57.3,160.3 57.8,161.2 58.2,162.1 58.7,163.0 59.1,163.9 59.5,164.8 59.8,165.8 60.2,166.8 60.5,167.8 60.8,168.9 61.0,169.8 61.2,170.6 61.4,171.6 61.6,172.5 61.8,173.4 62.0,174.4 62.1,175.3 62.3,176.3 62.5,177.2 62.7,178.1 62.9,179.1 63.0,180.0 63.2,180.9 63.4,181.9 63.6,182.8 63.8,183.7 64.0,184.6 64.2,185.5 64.5,186.5 64.7,187.5 65.0,188.5 65.3,189.5 65.6,190.4 65.9,191.3 66.2,192.1 66.7,193.1 67.2,194.1 67.7,194.9 68.3,195.5 69.3,195.9 70.4,195.9 71.3,195.6 72.2,195.0 73.0,194.3 73.8,193.6 74.6,192.9 75.4,192.0 75.9,191.4 76.4,190.7 76.9,189.9 77.4,189.1 77.9,188.3 78.5,187.4 79.0,186.6 79.5,185.8 80.0,185.0 80.5,184.2 81.0,183.4 81.6,182.5 82.1,181.7 82.6,181.0 83.1,180.2 83.7,179.5 84.4,178.7 85.0,178.0 85.7,177.4 86.4,176.7 87.1,176.1 87.8,175.4 88.5,174.8 89.2,174.2 89.9,173.5 90.7,172.9 91.4,172.3 92.2,171.8 93.0,171.2 93.7,170.7 94.5,170.2 95.3,169.8 96.1,169.3 96.9,168.8 97.7,168.4 98.5,168.0 99.3,167.6 100.2,167.2 101.1,166.8 101.9,166.4 102.8,166.0 103.7,165.6 104.6,165.3 105.5,165.0 106.4,164.7 107.3,164.5 108.2,164.2 109.1,164.0 110.0,163.8 110.9,163.6 111.7,163.4 112.8,163.2 113.8,163.0 114.8,162.9 116.0,162.7 116.7,162.6 117.6,162.5 118.5,162.4 119.4,162.2 120.4,162.1 121.4,162.0 122.4,161.9 123.4,161.7 124.3,161.6 125.2,161.5 126.1,161.4 126.8,161.3 128.0,161.2 129.1,161.0 130.1,160.9 131.2,160.8 132.1,160.7 133.1,160.6 134.0,160.6 135.1,160.5 136.1,160.4 137.1,160.4 138.1,160.3 139.1,160.3 140.0,160.2 141.0,160.1 142.0,160.0 143.0,160.0 144.0,159.9 145.0,159.9 145.9,159.8 146.9,159.8 147.8,159.8 148.8,159.7 149.8,159.7 150.8,159.7 151.7,159.7 152.7,159.6 153.7,159.6 154.7,159.6 155.6,159.5 156.6,159.5 157.5,159.5 158.5,159.4 159.4,159.4 160.4,159.4 161.4,159.4 162.4,159.3 163.3,159.3 164.2,159.3 165.2,159.3 166.1,159.3 167.1,159.3 168.0,159.2 169.0,159.2 169.9,159.2 170.9,159.2 171.8,159.2 172.8,159.2 173.7,159.2 174.7,159.2 175.6,159.1 176.5,159.1 177.5,159.1 178.4,159.1 179.4,159.1 180.3,159.1 181.2,159.1 182.2,159.0 183.1,159.0 184.1,159.0 185.0,159.0 186.0,159.0 186.9,159.0 187.9,159.0 188.8,158.9 189.7,158.9 190.7,158.9 191.6,158.9 192.6,158.9 193.5,158.9 194.4,158.9 195.3,158.9 196.2,158.9 197.1,158.9 198.0,158.9 199.0,158.9 199.9,158.9 200.8,158.9 201.7,158.8 202.6,158.8 203.5,158.8 204.4,158.8 205.3,158.8 206.2,158.8 207.1,158.8 208.0,158.8 208.9,158.8 209.8,158.8 210.7,158.8 211.6,158.8 212.6,158.8 213.5,158.8 214.4,158.8 215.3,158.8 216.2,158.8 217.1,158.8 218.0,158.8 218.9,158.8 219.8,158.8 220.7,158.8 221.6,158.8 222.5,158.8 223.4,158.8 224.3,158.8 225.3,158.8 226.2,158.8 227.1,158.8 228.0,158.8 228.9,158.8 229.8,158.7 230.7,158.7 231.6,158.7 232.5,158.7 233.4,158.7 234.3,158.7 235.2,158.7 236.1,158.7 237.0,158.7 238.0,158.7 238.9,158.7 239.8,158.7 240.7,158.7 241.6,158.7 242.5,158.7 243.4,158.7" fill="none" stroke="#3f9fd6" stroke-width="1.1" stroke-dasharray="6.2 1.4 0.7 1.5" stroke-dashoffset="0" stroke-linejoin="round" />
<path d="M54.5,158.6 55.4,158.8 56.2,159.1 56.7,159.7 57.3,160.4 57.8,161.3 58.2,162.3 58.7,163.3 59.1,164.2 59.5,165.1 59.8,166.1 60.2,167.1 60.5,168.1 60.8,169.2 61.0,170.1 61.2,170.9 61.4,171.9 61.6,172.8 61.8,173.7 62.0,174.7 62.1,175.6 62.3,176.6 62.5,177.5 62.7,178.4 62.9,179.4 63.0,180.3 63.2,181.2 63.4,182.2 63.6,183.1 63.8,184.0 64.0,184.9 64.2,185.8 64.5,186.8 64.7,187.8 65.0,188.8 65.3,189.8 65.6,190.7 65.9,191.6 66.2,192.4 66.7,193.4 67.2,194.4 67.7,195.2 68.3,195.8 69.3,196.2 70.4,196.2 71.3,195.9 72.2,195.3 73.0,194.6 73.8,193.9 74.6,193.2 75.4,192.3 75.9,191.7 76.4,191.0 76.9,190.2 77.4,189.4 77.9,188.6 78.5,187.7 79.0,186.9 79.5,186.1 80.0,185.3 80.5,184.5 81.0,183.7 81.6,182.8 82.1,182.0 82.6,181.3 83.1,180.5 83.7,179.8 84.4,179.0 85.0,178.3 85.7,177.7 86.4,177.0 87.1,176.4 87.8,175.7 88.5,175.1 89.2,174.5 89.9,173.8 90.7,173.2 91.4,172.6 92.2,172.1 93.0,171.5 93.7,171.0 94.5,170.5 95.3,170.1 96.1,169.6 96.9,169.1 97.7,168.7 98.5,168.3 99.3,167.9 100.2,167.5 101.1,167.1 101.9,166.7 102.8,166.3 103.7,165.9 104.6,165.6 105.5,165.3 106.4,165.0 107.3,164.8 108.2,164.5 109.1,164.3 110.0,164.1 110.9,163.9 111.7,163.7 112.8,163.5 113.8,163.3 114.8,163.2 116.0,163.0 116.7,162.9 117.6,162.8 118.5,162.7 119.4,162.5 120.4,162.4 121.4,162.3 122.4,162.2 123.4,162.0 124.3,161.9 125.2,161.8 126.1,161.7 126.8,161.6 128.0,161.4 129.1,161.3 130.1,161.1 131.2,161.0 132.1,160.9 133.1,160.8 134.0,160.8 135.1,160.7 136.1,160.6 137.1,160.6 138.1,160.5 139.1,160.4 140.0,160.4 141.0,160.3 142.0,160.2 143.0,160.1 144.0,160.1 145.0,160.0 145.9,160.0 146.9,159.9 147.8,159.9 148.8,159.8 149.8,159.8 150.8,159.8 151.7,159.8 152.7,159.7 153.7,159.7 154.7,159.7 155.6,159.6 156.6,159.6 157.5,159.6 158.5,159.5 159.4,159.5 160.4,159.5 161.4,159.4 162.4,159.4 163.3,159.4 164.2,159.4 165.2,159.3 166.1,159.3 167.1,159.3 168.0,159.3 169.0,159.3 169.9,159.3 170.9,159.3 171.8,159.2 172.8,159.2 173.7,159.2 174.7,159.2 175.6,159.2 176.5,159.2 177.5,159.2 178.4,159.1 179.4,159.1 180.3,159.1 181.2,159.1 182.2,159.1 183.1,159.1 184.1,159.1 185.0,159.0 186.0,159.0 186.9,159.0 187.9,159.0 188.8,159.0 189.7,159.0 190.7,158.9 191.6,158.9 192.6,158.9 193.5,158.9 194.4,158.9 195.3,158.9 196.2,158.9 197.1,158.9 198.0,158.9 199.0,158.9 199.9,158.9 200.8,158.9 201.7,158.9 202.6,158.9 203.5,158.9 204.4,158.9 205.3,158.9 206.2,158.8 207.1,158.8 208.0,158.8 208.9,158.8 209.8,158.8 210.7,158.8 211.6,158.8 212.6,158.8 213.5,158.8 214.4,158.8 215.3,158.8 216.2,158.8 217.1,158.8 218.0,158.8 218.9,158.8 219.8,158.8 220.7,158.8 221.6,158.8 222.5,158.8 223.4,158.8 224.3,158.8 225.3,158.8 226.2,158.8 227.1,158.8 228.0,158.8 228.9,158.8 229.8,158.8 230.7,158.8 231.6,158.7 232.5,158.7 233.4,158.7 234.3,158.7 235.2,158.7 236.1,158.7 237.0,158.7 238.0,158.7 238.9,158.7 239.8,158.7 240.7,158.7 241.6,158.7 242.5,158.7 243.4,158.7" fill="none" stroke="#a458c0" stroke-width="1.0" stroke-dasharray="6.2 1.4 0.7 1.5" stroke-dashoffset="5" stroke-linejoin="round" />
<path d="M54.5,158.6 55.4,158.8 56.2,159.2 56.7,159.8 57.3,160.7 57.8,161.7 58.2,162.8 58.7,163.8 59.1,164.7 59.5,165.7 59.8,166.6 60.2,167.6 60.5,168.6 60.8,169.7 61.0,170.6 61.2,171.4 61.4,172.4 61.6,173.3 61.8,174.2 62.0,175.2 62.1,176.1 62.3,177.1 62.5,178.0 62.7,178.9 62.9,179.9 63.0,180.8 63.2,181.7 63.4,182.7 63.6,183.6 63.8,184.5 64.0,185.4 64.2,186.3 64.5,187.3 64.7,188.3 65.0,189.3 65.3,190.3 65.6,191.2 65.9,192.1 66.2,192.9 66.7,193.9 67.2,194.9 67.7,195.7 68.3,196.3 69.3,196.7 70.4,196.7 71.3,196.4 72.2,195.8 73.0,195.1 73.8,194.4 74.6,193.7 75.4,192.8 75.9,192.2 76.4,191.5 76.9,190.7 77.4,189.9 77.9,189.1 78.5,188.2 79.0,187.4 79.5,186.6 80.0,185.8 80.5,185.0 81.0,184.2 81.6,183.3 82.1,182.5 82.6,181.8 83.1,181.0 83.7,180.3 84.4,179.5 85.0,178.8 85.7,178.2 86.4,177.5 87.1,176.9 87.8,176.2 88.5,175.6 89.2,175.0 89.9,174.3 90.7,173.7 91.4,173.1 92.2,172.6 93.0,172.0 93.7,171.5 94.5,171.0 95.3,170.6 96.1,170.1 96.9,169.6 97.7,169.2 98.5,168.8 99.3,168.4 100.2,168.0 101.1,167.6 101.9,167.2 102.8,166.8 103.7,166.4 104.6,166.1 105.5,165.8 106.4,165.5 107.3,165.3 108.2,165.0 109.1,164.8 110.0,164.6 110.9,164.4 111.7,164.2 112.8,164.0 113.8,163.8 114.8,163.7 116.0,163.5 116.7,163.4 117.6,163.3 118.5,163.2 119.4,163.0 120.4,162.9 121.4,162.8 122.4,162.7 123.4,162.5 124.3,162.4 125.2,162.3 126.1,162.2 126.8,162.1 128.0,161.9 129.1,161.7 130.1,161.5 131.2,161.4 132.1,161.3 133.1,161.2 134.0,161.1 135.1,161.0 136.1,161.0 137.1,160.9 138.1,160.8 139.1,160.7 140.0,160.6 141.0,160.5 142.0,160.4 143.0,160.4 144.0,160.3 145.0,160.2 145.9,160.2 146.9,160.1 147.8,160.1 148.8,160.0 149.8,160.0 150.8,160.0 151.7,159.9 152.7,159.9 153.7,159.9 154.7,159.8 155.6,159.8 156.6,159.7 157.5,159.7 158.5,159.7 159.4,159.6 160.4,159.6 161.4,159.5 162.4,159.5 163.3,159.5 164.2,159.5 165.2,159.4 166.1,159.4 167.1,159.4 168.0,159.4 169.0,159.4 169.9,159.4 170.9,159.4 171.8,159.3 172.8,159.3 173.7,159.3 174.7,159.3 175.6,159.3 176.5,159.3 177.5,159.2 178.4,159.2 179.4,159.2 180.3,159.2 181.2,159.2 182.2,159.1 183.1,159.1 184.1,159.1 185.0,159.1 186.0,159.1 186.9,159.1 187.9,159.0 188.8,159.0 189.7,159.0 190.7,159.0 191.6,159.0 192.6,158.9 193.5,158.9 194.4,158.9 195.3,158.9 196.2,158.9 197.1,158.9 198.0,158.9 199.0,158.9 199.9,158.9 200.8,158.9 201.7,158.9 202.6,158.9 203.5,158.9 204.4,158.9 205.3,158.9 206.2,158.9 207.1,158.9 208.0,158.9 208.9,158.9 209.8,158.9 210.7,158.9 211.6,158.8 212.6,158.8 213.5,158.8 214.4,158.8 215.3,158.8 216.2,158.8 217.1,158.8 218.0,158.8 218.9,158.8 219.8,158.8 220.7,158.8 221.6,158.8 222.5,158.8 223.4,158.8 224.3,158.8 225.3,158.8 226.2,158.8 227.1,158.8 228.0,158.8 228.9,158.8 229.8,158.8 230.7,158.8 231.6,158.8 232.5,158.8 233.4,158.7 234.3,158.7 235.2,158.7 236.1,158.7 237.0,158.7 238.0,158.7 238.9,158.7 239.8,158.7 240.7,158.7 241.6,158.7 242.5,158.7 243.4,158.7" fill="none" stroke="#f59a4f" stroke-width="1.1" stroke-dasharray="6.2 1.4 0.7 1.5" stroke-dashoffset="3" stroke-linejoin="round" />
<path d="M273.0,158.6 274.0,158.7 275.0,158.8 276.0,158.9 277.0,159.0 278.0,159.1 279.0,159.2 280.0,159.4 281.0,159.6 282.0,159.8 283.0,160.0 284.0,160.3 285.0,160.5 286.0,160.8 286.9,161.1 287.7,161.4 288.5,161.6 289.4,162.0 290.2,162.3 291.1,162.6 292.0,163.0 292.8,163.3 293.7,163.7 294.6,164.1 295.5,164.5 296.4,164.9 297.3,165.3 298.2,165.7 299.1,166.1 300.0,166.5 300.9,166.9 301.8,167.3 302.7,167.8 303.6,168.2 304.5,168.6 305.4,169.1 306.2,169.5 307.0,170.0 307.8,170.5 308.5,171.1 309.3,171.6 310.0,172.2 310.7,172.8 311.3,173.4 312.0,174.0 312.6,174.7 313.2,175.3 313.8,176.0 314.4,176.7 314.9,177.5 315.5,178.2 316.0,179.0 316.5,179.8 317.0,180.6 317.5,181.4 318.0,182.3 318.5,183.1 319.0,184.0 319.5,184.8 320.0,185.6 320.6,186.5 321.1,187.4 321.7,188.3 322.2,189.1 322.8,190.0 323.4,190.8 324.0,191.5 324.8,192.3 325.6,193.1 326.4,193.8 327.2,194.4 328.0,194.9 329.2,195.3 330.3,195.6 331.5,195.7 332.7,195.7 333.9,195.5 335.0,195.3 336.1,195.0 337.1,194.6 338.2,194.1 339.1,193.6 340.1,193.1 341.0,192.4 342.0,191.8 342.8,191.3 343.5,190.7 344.3,190.1 345.1,189.5 345.9,188.9 346.7,188.3 347.4,187.8 348.1,187.3 348.8,186.7 349.6,186.2 350.3,185.7 351.1,185.1 351.8,184.5 352.6,183.9 353.3,183.3 354.0,182.7 354.7,182.0 355.3,181.4 356.0,180.7 356.7,180.0 357.3,179.3 358.0,178.7 358.7,178.0 359.3,177.3 360.0,176.6 360.7,175.9 361.3,175.3 362.0,174.6 362.6,173.9 363.3,173.2 363.9,172.5 364.6,171.9 365.2,171.2 365.9,170.6 366.6,170.0 367.3,169.4 368.1,168.8 368.8,168.2 369.5,167.6 370.3,167.1 371.0,166.5 371.8,166.0 372.5,165.5 373.3,165.0 374.1,164.5 374.9,164.0 375.7,163.6 376.6,163.1 377.4,162.7 378.2,162.3 379.1,161.9 379.9,161.6 380.8,161.3 381.8,161.0 382.7,160.7 383.7,160.5 384.7,160.3 385.6,160.2 386.6,160.0 387.5,159.9 388.5,159.8 389.4,159.7 390.3,159.6 391.2,159.6 392.2,159.5 393.2,159.5 394.1,159.5 395.1,159.4 396.1,159.4 397.1,159.4 398.1,159.4 399.1,159.4 400.1,159.3 401.1,159.3 402.1,159.3 403.1,159.3 404.1,159.3 405.1,159.2 406.1,159.2 407.1,159.2 408.1,159.2 409.1,159.1 410.1,159.1 411.1,159.1 412.1,159.1 413.0,159.1 414.0,159.0 415.0,159.0 416.0,159.0 417.0,159.0 418.0,158.9 419.0,158.9 420.0,158.9 420.9,158.9 421.9,158.9 422.8,158.9 423.7,158.9 424.7,158.9 425.7,158.9 426.6,158.9 427.6,158.9 428.6,158.9 429.5,158.9 430.5,158.9 431.4,158.9 432.4,158.9 433.3,158.9 434.3,158.9 435.2,158.9 436.2,158.9 437.1,158.9 438.1,158.9 439.0,158.9 440.0,158.9 441.0,158.9 441.9,158.8 442.9,158.8 443.8,158.8 444.8,158.8 445.7,158.8 446.7,158.8 447.6,158.8 448.6,158.8 449.5,158.8 450.5,158.8 451.4,158.8 452.4,158.8 453.3,158.8 454.3,158.8 455.2,158.8 456.2,158.8 457.1,158.8 458.1,158.8 459.0,158.8 460.0,158.8 460.9,158.8 461.9,158.8" fill="none" stroke="#3a3a3a" stroke-width="1.1" stroke-dasharray="6.2 1.4 0.7 1.5" stroke-dashoffset="0" stroke-linejoin="round" />
<path d="M273.0,158.6 273.9,158.7 274.9,158.8 275.8,158.9 276.8,159.0 277.7,159.0 278.7,159.1 279.6,159.2 280.5,159.4 281.5,159.5 282.4,159.7 283.3,160.0 284.2,160.3 285.0,160.6 285.9,160.9 286.8,161.3 287.7,161.6 288.5,162.1 289.4,162.5 290.2,162.9 291.0,163.4 291.8,163.9 292.6,164.4 293.3,165.0 294.0,165.6 294.7,166.3 295.4,167.0 296.1,167.8 296.7,168.6 297.3,169.4 297.9,170.2 298.5,171.0 299.0,171.8 299.5,172.6 299.9,173.3 300.4,174.2 300.8,175.0 301.1,175.8 301.4,176.6 301.8,177.5 302.1,178.3 302.4,179.1 302.8,179.9 303.1,180.7 303.5,181.6 303.8,182.4 304.2,183.2 304.6,184.0 304.9,184.9 305.3,185.8 305.6,186.8 306.0,187.7 306.3,188.7 306.7,189.6 307.0,190.6 307.4,191.6 307.8,192.5 308.1,193.5 308.5,194.4 308.8,195.4 309.2,196.3 309.5,197.3 309.9,198.2 310.3,199.1 310.6,199.9 311.0,200.7 311.3,201.6 311.7,202.4 312.0,203.2 312.4,204.0 312.7,204.9 313.0,205.7 313.3,206.5 313.7,207.4 314.0,208.2 314.4,209.0 314.9,209.9 315.4,210.6 315.9,211.4 316.5,212.2 317.1,213.0 317.7,213.7 318.4,214.5 319.1,215.3 319.7,216.1 320.4,216.8 321.0,217.5 321.6,218.2 322.3,219.0 323.0,219.8 323.7,220.6 324.3,221.3 325.0,222.0 325.7,222.6 326.5,223.2 327.3,223.7 328.1,224.3 328.9,224.8 329.8,225.3 330.7,225.6 331.5,225.9 332.4,226.0 333.4,226.0 334.4,225.7 335.5,225.4 336.5,225.0 337.4,224.5 338.2,224.0 339.0,223.4 339.7,222.6 340.3,221.8 341.0,221.0 341.6,220.3 342.2,219.7 342.9,218.9 343.5,218.2 344.2,217.4 344.8,216.5 345.2,215.8 345.6,215.1 346.0,214.3 346.5,213.5 346.9,212.7 347.2,211.8 347.6,210.9 348.0,210.1 348.4,209.2 348.7,208.3 349.1,207.5 349.5,206.6 349.8,205.7 350.2,204.9 350.6,204.0 350.9,203.1 351.2,202.2 351.6,201.3 351.9,200.4 352.2,199.5 352.5,198.6 352.8,197.7 353.0,196.8 353.3,195.9 353.5,195.0 353.7,194.1 353.9,193.1 354.1,192.2 354.3,191.3 354.6,190.4 354.8,189.4 355.0,188.5 355.2,187.6 355.4,186.6 355.6,185.7 355.9,184.7 356.1,183.8 356.3,182.8 356.5,181.9 356.7,181.0 357.0,180.0 357.2,179.2 357.5,178.3 357.8,177.4 358.1,176.5 358.5,175.6 358.8,174.8 359.2,174.0 359.6,173.2 360.0,172.4 360.4,171.6 360.8,170.8 361.3,169.9 361.8,169.0 362.4,168.1 362.9,167.3 363.5,166.5 364.2,165.7 364.9,165.0 365.6,164.4 366.4,163.9 367.2,163.4 368.0,162.9 368.9,162.4 369.8,162.0 370.7,161.6 371.6,161.3 372.5,161.0 373.3,160.7 374.2,160.5 375.2,160.3 376.1,160.2 377.0,160.0 378.0,159.9 378.9,159.7 379.9,159.6 380.8,159.5 381.7,159.4 382.6,159.4 383.5,159.3 384.4,159.3 385.3,159.2 386.2,159.2 387.1,159.2 388.1,159.1 389.0,159.1 389.9,159.1 390.8,159.1 391.7,159.1 392.6,159.0 393.5,159.0 394.5,159.0 395.4,159.0 396.3,159.0 397.2,159.0 398.1,159.0 399.0,159.0 399.9,159.0 400.8,159.0 401.8,159.0 402.7,159.0 403.6,159.0 404.5,159.0 405.4,158.9 406.3,158.9 407.2,158.9 408.1,158.9 409.1,158.9 410.0,158.9 410.9,158.9 411.8,158.9 412.7,158.9 413.6,158.9 414.5,158.8 415.4,158.8 416.3,158.8 417.2,158.8 418.2,158.8 419.1,158.8 420.0,158.8 420.9,158.8 421.9,158.8 422.8,158.8 423.8,158.8 424.7,158.8 425.7,158.8 426.7,158.8 427.6,158.8 428.6,158.8 429.5,158.8 430.5,158.8 431.4,158.8 432.4,158.8 433.3,158.8 434.3,158.8 435.2,158.8 436.2,158.8 437.1,158.8 438.1,158.8 439.0,158.8 440.0,158.8 440.9,158.8 441.9,158.8 442.9,158.8 443.8,158.8 444.8,158.8 445.7,158.8 446.7,158.8 447.6,158.8 448.6,158.8 449.5,158.8 450.5,158.8 451.4,158.8 452.4,158.8 453.3,158.8 454.3,158.8 455.2,158.8 456.2,158.8 457.1,158.8 458.1,158.8 459.0,158.8 460.0,158.8 460.9,158.8 461.9,158.8" fill="none" stroke="#f59a4f" stroke-width="1.1" stroke-dasharray="6.2 1.4 0.7 1.5" stroke-dashoffset="0" stroke-linejoin="round" />
<path d="M273.0,158.6 273.9,158.8 274.9,158.9 275.8,159.0 276.8,159.2 277.7,159.3 278.7,159.4 279.6,159.6 280.5,159.8 281.5,160.0 282.4,160.3 283.3,160.6 284.2,160.9 285.0,161.3 285.9,161.7 286.8,162.1 287.7,162.6 288.5,163.1 289.4,163.6 290.2,164.1 291.0,164.7 291.8,165.2 292.6,165.8 293.3,166.3 294.1,166.9 294.8,167.5 295.5,168.1 296.2,168.7 296.9,169.4 297.5,170.0 298.1,170.7 298.7,171.4 299.3,172.1 299.9,172.9 300.4,173.6 300.9,174.4 301.4,175.2 301.8,176.1 302.3,177.0 302.7,177.8 303.1,178.7 303.5,179.6 303.9,180.5 304.2,181.3 304.6,182.1 304.9,182.9 305.3,183.9 305.7,184.9 306.1,185.8 306.4,186.8 306.7,187.7 307.1,188.6 307.4,189.6 307.7,190.5 308.1,191.4 308.4,192.3 308.7,193.3 309.1,194.2 309.5,195.2 309.9,196.2 310.2,197.0 310.6,197.8 311.0,198.6 311.4,199.5 311.8,200.4 312.2,201.2 312.6,202.1 313.1,203.0 313.5,203.8 314.0,204.7 314.4,205.4 314.9,206.2 315.4,207.0 315.9,207.8 316.5,208.6 317.0,209.3 317.5,210.0 318.1,210.7 318.7,211.4 319.3,212.1 319.9,212.8 320.6,213.5 321.3,214.2 322.0,215.0 322.7,215.7 323.4,216.4 324.2,217.0 324.9,217.6 325.7,218.2 326.5,218.7 327.4,219.2 328.4,219.8 329.3,220.2 330.3,220.6 331.3,220.9 332.2,221.1 333.2,221.2 334.2,221.1 335.2,220.9 336.1,220.5 337.1,220.1 338.1,219.6 339.0,219.2 339.9,218.7 340.8,218.2 341.7,217.7 342.6,217.2 343.4,216.7 344.2,216.0 345.0,215.3 345.6,214.6 346.1,213.9 346.5,213.1 347.0,212.3 347.4,211.4 347.9,210.5 348.3,209.6 348.7,208.7 349.1,207.8 349.5,206.9 349.9,206.0 350.3,205.1 350.7,204.2 351.1,203.3 351.5,202.4 351.8,201.4 352.2,200.5 352.5,199.5 352.8,198.6 353.0,197.8 353.3,196.9 353.5,196.0 353.7,195.1 353.9,194.2 354.1,193.2 354.4,192.3 354.6,191.4 354.8,190.5 355.0,189.6 355.2,188.7 355.4,187.8 355.6,186.8 355.9,185.9 356.1,185.0 356.3,184.0 356.5,183.1 356.7,182.2 357.0,181.3 357.2,180.4 357.5,179.6 357.8,178.7 358.1,177.8 358.5,177.0 358.8,176.1 359.2,175.3 359.6,174.5 360.0,173.7 360.4,172.9 360.8,172.1 361.3,171.2 361.8,170.3 362.4,169.4 362.9,168.6 363.5,167.8 364.2,167.0 364.9,166.3 365.6,165.7 366.4,165.1 367.2,164.6 368.0,164.1 368.9,163.7 369.8,163.2 370.7,162.8 371.6,162.4 372.5,162.1 373.3,161.7 374.2,161.4 375.2,161.1 376.1,160.9 377.0,160.6 378.0,160.4 378.9,160.2 379.9,160.0 380.8,159.8 381.7,159.7 382.5,159.6 383.5,159.6 384.4,159.5 385.3,159.4 386.2,159.4 387.1,159.4 388.1,159.3 389.0,159.3 389.9,159.3 390.8,159.2 391.7,159.2 392.6,159.2 393.5,159.2 394.5,159.2 395.4,159.2 396.3,159.2 397.2,159.2 398.1,159.1 399.0,159.1 399.9,159.1 400.8,159.1 401.8,159.1 402.7,159.1 403.6,159.1 404.5,159.1 405.4,159.1 406.3,159.0 407.2,159.0 408.1,159.0 409.1,159.0 410.0,159.0 410.9,159.0 411.8,159.0 412.7,158.9 413.6,158.9 414.5,158.9 415.4,158.9 416.3,158.9 417.2,158.9 418.2,158.9 419.1,158.9 420.0,158.8 420.9,158.8 421.9,158.8 422.8,158.8 423.8,158.8 424.7,158.8 425.7,158.8 426.7,158.8 427.6,158.8 428.6,158.8 429.5,158.8 430.5,158.8 431.4,158.8 432.4,158.8 433.3,158.8 434.3,158.8 435.2,158.8 436.2,158.8 437.1,158.8 438.1,158.8 439.0,158.8 440.0,158.8 440.9,158.8 441.9,158.8 442.9,158.8 443.8,158.8 444.8,158.8 445.7,158.8 446.7,158.8 447.6,158.8 448.6,158.8 449.5,158.8 450.5,158.8 451.4,158.8 452.4,158.8 453.3,158.8 454.3,158.8 455.2,158.8 456.2,158.8 457.1,158.8 458.1,158.8 459.0,158.8 460.0,158.8 460.9,158.8 461.9,158.8" fill="none" stroke="#a458c0" stroke-width="1.1" stroke-dasharray="6.2 1.4 0.7 1.5" stroke-dashoffset="0" stroke-linejoin="round" />
<path d="M273.0,158.6 273.9,158.7 274.9,158.8 275.8,158.9 276.8,158.9 277.7,159.0 278.7,159.1 279.6,159.2 280.5,159.3 281.5,159.5 282.4,159.7 283.3,159.9 284.2,160.2 285.0,160.5 285.9,160.8 286.8,161.2 287.7,161.6 288.5,162.0 289.4,162.4 290.2,162.9 291.0,163.3 291.8,163.8 292.6,164.3 293.3,164.8 294.1,165.4 294.8,166.0 295.5,166.6 296.2,167.2 296.9,167.8 297.5,168.5 298.1,169.2 298.7,169.9 299.3,170.6 299.9,171.4 300.4,172.1 300.9,172.9 301.4,173.7 301.8,174.6 302.3,175.5 302.7,176.3 303.1,177.2 303.5,178.1 303.9,179.0 304.2,179.8 304.6,180.6 304.9,181.4 305.3,182.4 305.7,183.4 306.1,184.3 306.4,185.3 306.7,186.2 307.1,187.1 307.4,188.1 307.7,189.0 308.1,189.9 308.4,190.8 308.7,191.8 309.1,192.7 309.5,193.7 309.9,194.7 310.2,195.5 310.6,196.3 311.0,197.1 311.4,198.0 311.8,198.9 312.2,199.7 312.6,200.6 313.1,201.5 313.5,202.3 314.0,203.2 314.4,203.9 314.9,204.7 315.4,205.5 315.9,206.3 316.5,207.1 317.0,207.8 317.5,208.5 318.1,209.2 318.7,209.9 319.3,210.6 319.9,211.3 320.6,212.0 321.3,212.7 322.0,213.5 322.7,214.2 323.4,214.9 324.2,215.5 324.9,216.1 325.7,216.7 326.5,217.2 327.4,217.7 328.4,218.3 329.3,218.7 330.3,219.1 331.3,219.4 332.2,219.6 333.2,219.7 334.2,219.6 335.2,219.4 336.1,219.0 337.1,218.6 338.1,218.1 339.0,217.7 339.9,217.2 340.8,216.7 341.7,216.2 342.6,215.7 343.4,215.2 344.2,214.5 345.0,213.8 345.6,213.1 346.1,212.4 346.5,211.6 347.0,210.8 347.4,209.9 347.9,209.0 348.3,208.1 348.7,207.2 349.1,206.3 349.5,205.4 349.9,204.5 350.3,203.6 350.7,202.7 351.1,201.8 351.5,200.9 351.8,199.9 352.2,199.0 352.5,198.0 352.8,197.1 353.0,196.3 353.3,195.4 353.5,194.5 353.7,193.6 353.9,192.7 354.1,191.7 354.4,190.8 354.6,189.9 354.8,189.0 355.0,188.1 355.2,187.2 355.4,186.3 355.6,185.3 355.9,184.4 356.1,183.5 356.3,182.5 356.5,181.6 356.7,180.7 357.0,179.8 357.2,178.9 357.5,178.1 357.8,177.2 358.1,176.3 358.5,175.5 358.8,174.6 359.2,173.8 359.6,173.0 360.0,172.2 360.4,171.4 360.8,170.6 361.3,169.7 361.8,168.8 362.4,167.9 362.9,167.1 363.5,166.3 364.2,165.5 364.9,164.8 365.6,164.2 366.4,163.7 367.2,163.2 368.0,162.7 368.9,162.2 369.8,161.8 370.7,161.5 371.6,161.1 372.5,160.8 373.3,160.6 374.2,160.4 375.2,160.2 376.1,160.0 377.0,159.9 378.0,159.8 378.9,159.7 379.9,159.5 380.8,159.4 381.7,159.4 382.6,159.3 383.5,159.3 384.4,159.2 385.3,159.2 386.2,159.2 387.1,159.1 388.1,159.1 389.0,159.1 389.9,159.1 390.8,159.1 391.7,159.0 392.6,159.0 393.5,159.0 394.5,159.0 395.4,159.0 396.3,159.0 397.2,159.0 398.1,159.0 399.0,159.0 399.9,159.0 400.8,159.0 401.8,159.0 402.7,159.0 403.6,158.9 404.5,158.9 405.4,158.9 406.3,158.9 407.2,158.9 408.1,158.9 409.1,158.9 410.0,158.9 410.9,158.9 411.8,158.9 412.7,158.9 413.6,158.8 414.5,158.8 415.4,158.8 416.3,158.8 417.2,158.8 418.2,158.8 419.1,158.8 420.0,158.8 420.9,158.8 421.9,158.8 422.8,158.8 423.8,158.8 424.7,158.8 425.7,158.8 426.7,158.8 427.6,158.8 428.6,158.8 429.5,158.8 430.5,158.8 431.4,158.8 432.4,158.8 433.3,158.8 434.3,158.8 435.2,158.8 436.2,158.8 437.1,158.8 438.1,158.8 439.0,158.8 440.0,158.8 440.9,158.8 441.9,158.8 442.9,158.8 443.8,158.8 444.8,158.8 445.7,158.8 446.7,158.8 447.6,158.8 448.6,158.8 449.5,158.8 450.5,158.8 451.4,158.8 452.4,158.8 453.3,158.8 454.3,158.8 455.2,158.8 456.2,158.8 457.1,158.8 458.1,158.8 459.0,158.8 460.0,158.8 460.9,158.8 461.9,158.8" fill="none" stroke="#86c45e" stroke-width="1.1" stroke-dasharray="6.2 1.4 0.7 1.5" stroke-dashoffset="0" stroke-linejoin="round" />
<path d="M273.0,158.6 273.9,158.7 274.9,158.8 275.8,158.9 276.8,159.0 277.7,159.1 278.7,159.3 279.6,159.4 280.5,159.5 281.5,159.7 282.4,159.9 283.3,160.2 284.2,160.5 285.0,160.9 285.9,161.2 286.8,161.6 287.7,162.1 288.5,162.5 289.4,163.0 290.2,163.4 291.0,163.9 291.8,164.5 292.6,165.0 293.3,165.5 294.1,166.1 294.8,166.7 295.5,167.3 296.2,167.9 296.9,168.5 297.5,169.2 298.1,169.9 298.7,170.6 299.3,171.3 299.9,172.1 300.4,172.8 300.9,173.6 301.4,174.4 301.8,175.3 302.3,176.2 302.7,177.0 303.1,177.9 303.5,178.8 303.9,179.7 304.2,180.5 304.6,181.3 304.9,182.1 305.3,183.1 305.7,184.1 306.1,185.0 306.4,186.0 306.7,186.9 307.1,187.8 307.4,188.8 307.7,189.7 308.1,190.6 308.4,191.5 308.7,192.5 309.1,193.4 309.5,194.4 309.9,195.4 310.2,196.2 310.6,197.0 311.0,197.8 311.4,198.7 311.8,199.6 312.2,200.4 312.6,201.3 313.1,202.2 313.5,203.0 314.0,203.9 314.4,204.6 314.9,205.4 315.4,206.2 315.9,207.0 316.5,207.8 317.0,208.5 317.5,209.2 318.1,209.9 318.7,210.6 319.3,211.3 319.9,212.0 320.6,212.7 321.3,213.4 322.0,214.2 322.7,214.9 323.4,215.6 324.2,216.2 324.9,216.8 325.7,217.4 326.5,217.9 327.4,218.4 328.4,219.0 329.3,219.4 330.3,219.8 331.3,220.1 332.2,220.3 333.2,220.4 334.2,220.3 335.2,220.1 336.1,219.7 337.1,219.3 338.1,218.8 339.0,218.4 339.9,217.9 340.8,217.4 341.7,216.9 342.6,216.4 343.4,215.9 344.2,215.2 345.0,214.5 345.6,213.8 346.1,213.1 346.5,212.3 347.0,211.5 347.4,210.6 347.9,209.7 348.3,208.8 348.7,207.9 349.1,207.0 349.5,206.1 349.9,205.2 350.3,204.3 350.7,203.4 351.1,202.5 351.5,201.6 351.8,200.6 352.2,199.7 352.5,198.7 352.8,197.8 353.0,197.0 353.3,196.1 353.5,195.2 353.7,194.3 353.9,193.4 354.1,192.4 354.4,191.5 354.6,190.6 354.8,189.7 355.0,188.8 355.2,187.9 355.4,187.0 355.6,186.0 355.9,185.1 356.1,184.2 356.3,183.2 356.5,182.3 356.7,181.4 357.0,180.5 357.2,179.6 357.5,178.8 357.8,177.9 358.1,177.0 358.5,176.2 358.8,175.3 359.2,174.5 359.6,173.7 360.0,172.9 360.4,172.1 360.8,171.3 361.3,170.4 361.8,169.5 362.4,168.6 362.9,167.8 363.5,167.0 364.2,166.2 364.9,165.5 365.6,164.9 366.4,164.4 367.2,163.8 368.0,163.4 368.9,162.9 369.8,162.5 370.7,162.1 371.6,161.7 372.5,161.4 373.3,161.1 374.2,160.9 375.2,160.6 376.1,160.4 377.0,160.2 378.0,160.1 378.9,159.9 379.9,159.8 380.8,159.6 381.7,159.5 382.6,159.5 383.5,159.4 384.4,159.3 385.3,159.3 386.2,159.3 387.1,159.2 388.1,159.2 389.0,159.2 389.9,159.2 390.8,159.1 391.7,159.1 392.6,159.1 393.5,159.1 394.5,159.1 395.4,159.1 396.3,159.1 397.2,159.1 398.1,159.1 399.0,159.1 399.9,159.1 400.8,159.0 401.8,159.0 402.7,159.0 403.6,159.0 404.5,159.0 405.4,159.0 406.3,159.0 407.2,159.0 408.1,159.0 409.1,158.9 410.0,158.9 410.9,158.9 411.8,158.9 412.7,158.9 413.6,158.9 414.5,158.9 415.4,158.9 416.3,158.9 417.2,158.8 418.2,158.8 419.1,158.8 420.0,158.8 420.9,158.8 421.9,158.8 422.8,158.8 423.8,158.8 424.7,158.8 425.7,158.8 426.7,158.8 427.6,158.8 428.6,158.8 429.5,158.8 430.5,158.8 431.4,158.8 432.4,158.8 433.3,158.8 434.3,158.8 435.2,158.8 436.2,158.8 437.1,158.8 438.1,158.8 439.0,158.8 440.0,158.8 440.9,158.8 441.9,158.8 442.9,158.8 443.8,158.8 444.8,158.8 445.7,158.8 446.7,158.8 447.6,158.8 448.6,158.8 449.5,158.8 450.5,158.8 451.4,158.8 452.4,158.8 453.3,158.8 454.3,158.8 455.2,158.8 456.2,158.8 457.1,158.8 458.1,158.8 459.0,158.8 460.0,158.8 460.9,158.8 461.9,158.8" fill="none" stroke="#3f9fd6" stroke-width="1.1" stroke-dasharray="6.2 1.4 0.7 1.5" stroke-dashoffset="0" stroke-linejoin="round" />
<path d="M73.20,346.49 L92.90,326.60 L112.60,326.60 L132.30,326.60 L152.00,326.60 L171.70,326.60 L191.40,326.60 L211.10,326.60 L230.80,326.60 L250.50,326.60" fill="none" stroke="#3a3a3a" stroke-width="1.2" stroke-dasharray="1.8 1.3" stroke-dashoffset="0" stroke-linejoin="round" />
<path d="M73.20,347.40 L92.90,330.57 L112.60,327.00 L132.30,327.00 L152.00,327.00 L171.70,327.00 L191.40,327.00 L211.10,327.00 L230.80,327.00 L250.50,327.00" fill="none" stroke="#a458c0" stroke-width="1.2" stroke-dasharray="1.8 1.3" stroke-dashoffset="0" stroke-linejoin="round" />
<path d="M73.20,347.00 L92.90,330.17 L112.60,326.60 L132.30,326.60 L152.00,326.60 L171.70,326.60 L191.40,326.60 L211.10,326.60 L230.80,326.60 L250.50,326.60" fill="none" stroke="#3f9fd6" stroke-width="1.2" stroke-dasharray="1.8 1.3" stroke-dashoffset="0" stroke-linejoin="round" />
<path d="M73.20,348.02 L92.90,333.23 L112.60,326.60 L132.30,326.60 L152.00,326.60 L171.70,326.60 L191.40,326.60 L211.10,326.60 L230.80,326.60 L250.50,326.60" fill="none" stroke="#f59a4f" stroke-width="1.2" stroke-dasharray="1.8 1.3" stroke-dashoffset="0" stroke-linejoin="round" />
<path d="M73.2,362.5 74.1,362.8 75.0,363.1 75.9,363.4 76.8,363.8 77.7,364.1 78.6,364.4 79.5,364.7 80.4,365.0 81.3,365.3 82.2,365.7 83.1,366.0 83.9,366.3 84.8,366.6 85.7,367.0 86.6,367.3 87.5,367.6 88.4,367.9 89.3,368.3 90.2,368.6 91.1,368.9 92.0,369.2 92.9,369.4 93.8,369.7 94.7,369.9 95.6,370.1 96.5,370.3 97.4,370.5 98.3,370.7 99.2,370.9 100.1,371.0 101.0,371.2 101.9,371.4 102.8,371.6 103.6,371.8 104.5,372.0 105.4,372.2 106.3,372.4 107.2,372.6 108.1,372.8 109.0,373.0 109.9,373.2 110.8,373.4 111.7,373.6 112.6,373.8 113.5,373.9 114.4,374.1 115.3,374.2 116.2,374.4 117.1,374.5 118.0,374.6 118.9,374.7 119.8,374.9 120.7,375.0 121.6,375.1 122.5,375.2 123.3,375.4 124.2,375.5 125.1,375.6 126.0,375.8 126.9,375.9 127.8,376.1 128.7,376.2 129.6,376.3 130.5,376.5 131.4,376.6 132.3,376.7 133.3,376.8 134.3,376.9 135.3,377.0 136.2,377.1 137.2,377.1 138.2,377.2 139.2,377.3 140.2,377.4 141.2,377.4 142.2,377.5 143.1,377.6 144.1,377.7 145.1,377.8 146.1,377.9 147.1,377.9 148.1,378.0 149.0,378.1 150.0,378.2 151.0,378.3 152.0,378.4 153.0,378.5 154.0,378.5 155.0,378.6 155.9,378.7 156.9,378.8 157.9,378.9 158.9,379.0 159.9,379.1 160.9,379.2 161.8,379.3 162.8,379.3 163.8,379.4 164.8,379.5 165.8,379.6 166.8,379.7 167.8,379.8 168.7,379.9 169.7,380.0 170.7,380.1 171.7,380.2 172.7,380.2 173.7,380.3 174.7,380.4 175.6,380.4 176.6,380.5 177.6,380.5 178.6,380.6 179.6,380.7 180.6,380.7 181.6,380.8 182.5,380.9 183.5,380.9 184.5,381.0 185.5,381.1 186.5,381.1 187.5,381.2 188.4,381.3 189.4,381.3 190.4,381.4 191.4,381.4 192.4,381.5 193.4,381.5 194.4,381.6 195.3,381.6 196.3,381.6 197.3,381.7 198.3,381.7 199.3,381.7 200.3,381.8 201.2,381.8 202.2,381.8 203.2,381.9 204.2,381.9 205.2,382.0 206.2,382.0 207.2,382.0 208.1,382.1 209.1,382.1 210.1,382.2 211.1,382.2 212.1,382.2 213.1,382.2 214.1,382.3 215.0,382.3 216.0,382.3 217.0,382.3 218.0,382.4 219.0,382.4 220.0,382.4 220.9,382.4 221.9,382.5 222.9,382.5 223.9,382.5 224.9,382.5 225.9,382.6 226.9,382.6 227.8,382.6 228.8,382.7 229.8,382.7 230.8,382.7 231.8,382.7 232.8,382.7 233.8,382.8 234.7,382.8 235.7,382.8 236.7,382.8 237.7,382.8 238.7,382.9 239.7,382.9 240.7,382.9 241.6,382.9 242.6,382.9 243.6,383.0 244.6,383.0 245.6,383.0 246.6,383.0 247.5,383.0 248.5,383.1 249.5,383.1 250.5,383.1" fill="none" stroke="#3a3a3a" stroke-width="1.1" stroke-linejoin="round" />
<path d="M73.2,362.7 74.1,362.9 75.0,363.2 75.9,363.4 76.8,363.6 77.7,363.8 78.6,364.1 79.5,364.3 80.4,364.5 81.3,364.8 82.2,365.0 83.1,365.2 83.9,365.5 84.8,365.7 85.7,365.9 86.6,366.2 87.5,366.4 88.4,366.7 89.3,366.9 90.2,367.1 91.1,367.3 92.0,367.5 92.9,367.7 93.8,367.9 94.7,368.1 95.6,368.3 96.5,368.4 97.4,368.6 98.3,368.7 99.2,368.9 100.1,369.0 101.0,369.1 101.9,369.3 102.8,369.4 103.6,369.6 104.5,369.7 105.4,369.9 106.3,370.1 107.2,370.2 108.1,370.4 109.0,370.5 109.9,370.7 110.8,370.8 111.7,371.0 112.6,371.1 113.5,371.2 114.4,371.4 115.3,371.5 116.2,371.6 117.1,371.7 118.0,371.8 118.9,371.9 119.8,372.0 120.7,372.1 121.6,372.2 122.4,372.3 123.3,372.4 124.2,372.5 125.1,372.6 126.0,372.7 126.9,372.8 127.8,372.9 128.7,373.0 129.6,373.1 130.5,373.2 131.4,373.3 132.3,373.4 133.3,373.5 134.3,373.6 135.3,373.7 136.2,373.8 137.2,373.9 138.2,373.9 139.2,374.0 140.2,374.1 141.2,374.2 142.1,374.3 143.1,374.4 144.1,374.4 145.1,374.5 146.1,374.6 147.1,374.7 148.1,374.8 149.0,374.9 150.0,375.0 151.0,375.1 152.0,375.1 153.0,375.2 154.0,375.3 155.0,375.4 155.9,375.5 156.9,375.6 157.9,375.7 158.9,375.8 159.9,375.9 160.9,376.0 161.8,376.1 162.8,376.2 163.8,376.2 164.8,376.3 165.8,376.4 166.8,376.5 167.8,376.6 168.7,376.7 169.7,376.8 170.7,376.9 171.7,377.0 172.7,377.1 173.7,377.1 174.7,377.2 175.6,377.3 176.6,377.4 177.6,377.4 178.6,377.5 179.6,377.6 180.6,377.6 181.6,377.7 182.5,377.8 183.5,377.9 184.5,377.9 185.5,378.0 186.5,378.1 187.5,378.2 188.4,378.2 189.4,378.3 190.4,378.4 191.4,378.5 192.4,378.5 193.4,378.6 194.4,378.6 195.3,378.7 196.3,378.8 197.3,378.8 198.3,378.9 199.3,378.9 200.3,379.0 201.2,379.0 202.2,379.1 203.2,379.2 204.2,379.2 205.2,379.3 206.2,379.3 207.2,379.4 208.1,379.5 209.1,379.5 210.1,379.6 211.1,379.6 212.1,379.7 213.1,379.7 214.1,379.8 215.0,379.8 216.0,379.9 217.0,379.9 218.0,379.9 219.0,380.0 220.0,380.0 220.9,380.1 221.9,380.1 222.9,380.2 223.9,380.2 224.9,380.2 225.9,380.3 226.9,380.3 227.8,380.4 228.8,380.4 229.8,380.5 230.8,380.5 231.8,380.5 232.8,380.6 233.8,380.6 234.7,380.6 235.7,380.7 236.7,380.7 237.7,380.7 238.7,380.8 239.7,380.8 240.7,380.8 241.6,380.9 242.6,380.9 243.6,380.9 244.6,381.0 245.6,381.0 246.6,381.0 247.5,381.1 248.5,381.1 249.5,381.1 250.5,381.2" fill="none" stroke="#3f9fd6" stroke-width="1.1" stroke-linejoin="round" />
<path d="M73.2,363.0 74.1,363.2 75.0,363.5 75.9,363.7 76.8,363.9 77.7,364.1 78.6,364.4 79.5,364.6 80.4,364.8 81.3,365.1 82.2,365.3 83.1,365.5 83.9,365.8 84.8,366.0 85.7,366.2 86.6,366.5 87.5,366.7 88.4,367.0 89.3,367.2 90.2,367.4 91.1,367.6 92.0,367.8 92.9,368.0 93.8,368.2 94.7,368.4 95.6,368.6 96.5,368.7 97.4,368.9 98.3,369.0 99.2,369.2 100.1,369.3 101.0,369.4 101.9,369.6 102.8,369.7 103.6,369.9 104.5,370.0 105.4,370.2 106.3,370.4 107.2,370.5 108.1,370.7 109.0,370.8 109.9,371.0 110.8,371.1 111.7,371.3 112.6,371.4 113.5,371.5 114.4,371.7 115.3,371.8 116.2,371.9 117.1,372.0 118.0,372.1 118.9,372.2 119.8,372.3 120.7,372.4 121.6,372.5 122.5,372.6 123.3,372.7 124.2,372.8 125.1,372.9 126.0,373.0 126.9,373.1 127.8,373.2 128.7,373.3 129.6,373.4 130.5,373.5 131.4,373.6 132.3,373.7 133.3,373.8 134.3,373.9 135.3,374.0 136.2,374.1 137.2,374.2 138.2,374.2 139.2,374.3 140.2,374.4 141.2,374.5 142.2,374.6 143.1,374.7 144.1,374.7 145.1,374.8 146.1,374.9 147.1,375.0 148.1,375.1 149.0,375.2 150.0,375.3 151.0,375.4 152.0,375.4 153.0,375.5 154.0,375.6 155.0,375.7 155.9,375.8 156.9,375.9 157.9,376.0 158.9,376.1 159.9,376.2 160.9,376.3 161.8,376.4 162.8,376.5 163.8,376.5 164.8,376.6 165.8,376.7 166.8,376.8 167.8,376.9 168.7,377.0 169.7,377.1 170.7,377.2 171.7,377.3 172.7,377.4 173.7,377.4 174.7,377.5 175.6,377.6 176.6,377.7 177.6,377.7 178.6,377.8 179.6,377.9 180.6,377.9 181.5,378.0 182.5,378.1 183.5,378.2 184.5,378.2 185.5,378.3 186.5,378.4 187.5,378.5 188.4,378.5 189.4,378.6 190.4,378.7 191.4,378.8 192.4,378.8 193.4,378.9 194.4,378.9 195.3,379.0 196.3,379.1 197.3,379.1 198.3,379.2 199.3,379.2 200.3,379.3 201.3,379.3 202.2,379.4 203.2,379.5 204.2,379.5 205.2,379.6 206.2,379.6 207.2,379.7 208.1,379.8 209.1,379.8 210.1,379.9 211.1,379.9 212.1,380.0 213.1,380.0 214.1,380.1 215.0,380.1 216.0,380.2 217.0,380.2 218.0,380.2 219.0,380.3 220.0,380.3 220.9,380.4 221.9,380.4 222.9,380.5 223.9,380.5 224.9,380.5 225.9,380.6 226.9,380.6 227.8,380.7 228.8,380.7 229.8,380.8 230.8,380.8 231.8,380.8 232.8,380.9 233.8,380.9 234.7,380.9 235.7,381.0 236.7,381.0 237.7,381.0 238.7,381.1 239.7,381.1 240.6,381.1 241.6,381.2 242.6,381.2 243.6,381.2 244.6,381.3 245.6,381.3 246.6,381.3 247.5,381.4 248.5,381.4 249.5,381.4 250.5,381.5" fill="none" stroke="#a458c0" stroke-width="1.0" stroke-linejoin="round" />
<path d="M73.2,362.0 74.1,362.2 75.0,362.5 75.9,362.7 76.8,362.9 77.7,363.1 78.6,363.4 79.5,363.6 80.4,363.8 81.3,364.1 82.2,364.3 83.1,364.5 83.9,364.8 84.8,365.0 85.7,365.2 86.6,365.5 87.5,365.7 88.4,366.0 89.3,366.2 90.2,366.4 91.1,366.6 92.0,366.8 92.9,367.0 93.8,367.2 94.7,367.4 95.6,367.6 96.5,367.7 97.4,367.9 98.3,368.0 99.2,368.2 100.1,368.3 101.0,368.4 101.9,368.6 102.8,368.7 103.6,368.9 104.5,369.0 105.4,369.2 106.3,369.4 107.2,369.5 108.1,369.7 109.0,369.8 109.9,370.0 110.8,370.1 111.7,370.3 112.6,370.4 113.5,370.5 114.4,370.7 115.3,370.8 116.2,370.9 117.1,371.0 118.0,371.1 118.9,371.2 119.8,371.3 120.7,371.4 121.6,371.5 122.5,371.6 123.3,371.7 124.2,371.8 125.1,371.9 126.0,372.0 126.9,372.1 127.8,372.2 128.7,372.3 129.6,372.4 130.5,372.5 131.4,372.6 132.3,372.7 133.3,372.8 134.3,372.9 135.3,373.0 136.2,373.1 137.2,373.2 138.2,373.2 139.2,373.3 140.2,373.4 141.2,373.5 142.2,373.6 143.1,373.7 144.1,373.7 145.1,373.8 146.1,373.9 147.1,374.0 148.1,374.1 149.0,374.2 150.0,374.3 151.0,374.4 152.0,374.4 153.0,374.5 154.0,374.6 155.0,374.7 155.9,374.8 156.9,374.9 157.9,375.0 158.9,375.1 159.9,375.2 160.9,375.3 161.8,375.4 162.8,375.5 163.8,375.5 164.8,375.6 165.8,375.7 166.8,375.8 167.8,375.9 168.7,376.0 169.7,376.1 170.7,376.2 171.7,376.3 172.7,376.4 173.7,376.4 174.7,376.5 175.6,376.6 176.6,376.7 177.6,376.7 178.6,376.8 179.6,376.9 180.6,376.9 181.5,377.0 182.5,377.1 183.5,377.2 184.5,377.2 185.5,377.3 186.5,377.4 187.5,377.5 188.4,377.5 189.4,377.6 190.4,377.7 191.4,377.8 192.4,377.8 193.4,377.9 194.4,377.9 195.3,378.0 196.3,378.1 197.3,378.1 198.3,378.2 199.3,378.2 200.3,378.3 201.3,378.3 202.2,378.4 203.2,378.5 204.2,378.5 205.2,378.6 206.2,378.6 207.2,378.7 208.1,378.8 209.1,378.8 210.1,378.9 211.1,378.9 212.1,379.0 213.1,379.0 214.1,379.1 215.0,379.1 216.0,379.2 217.0,379.2 218.0,379.2 219.0,379.3 220.0,379.3 220.9,379.4 221.9,379.4 222.9,379.5 223.9,379.5 224.9,379.5 225.9,379.6 226.9,379.6 227.8,379.7 228.8,379.7 229.8,379.8 230.8,379.8 231.8,379.8 232.8,379.9 233.8,379.9 234.7,379.9 235.7,380.0 236.7,380.0 237.7,380.0 238.7,380.1 239.7,380.1 240.6,380.1 241.6,380.2 242.6,380.2 243.6,380.2 244.6,380.3 245.6,380.3 246.6,380.3 247.5,380.4 248.5,380.4 249.5,380.4 250.5,380.5" fill="none" stroke="#f59a4f" stroke-width="1.1" stroke-linejoin="round" />
<path d="M292.10,348.96 L311.70,344.84 L331.30,326.30 L350.90,326.30 L370.50,326.30 L390.10,326.30 L409.70,326.30 L429.30,326.30 L448.90,326.30 L468.50,326.30" fill="none" stroke="#3a3a3a" stroke-width="1.15" stroke-dasharray="1.8 1.3" stroke-dashoffset="0" stroke-linejoin="round" />
<path d="M292.10,347.93 L311.70,351.02 L331.30,347.93 L350.90,330.42 L370.50,326.30 L390.10,326.30 L409.70,326.30 L429.30,326.30 L448.90,326.30 L468.50,326.30" fill="none" stroke="#f59a4f" stroke-width="1.15" stroke-dasharray="1.8 1.3" stroke-dashoffset="0" stroke-linejoin="round" />
<path d="M292.10,348.98 L311.70,350.00 L331.30,340.74 L350.90,327.86 L370.50,325.80 L390.10,325.80 L409.70,325.80 L429.30,325.80 L448.90,325.80 L468.50,325.80" fill="none" stroke="#86c45e" stroke-width="1.15" stroke-dasharray="1.8 1.3" stroke-dashoffset="0" stroke-linejoin="round" />
<path d="M292.10,349.98 L311.70,351.00 L331.30,341.74 L350.90,328.86 L370.50,326.80 L390.10,326.80 L409.70,326.80 L429.30,326.80 L448.90,326.80 L468.50,326.80" fill="none" stroke="#a458c0" stroke-width="1.15" stroke-dasharray="1.8 1.3" stroke-dashoffset="0" stroke-linejoin="round" />
<path d="M292.10,349.48 L311.70,350.50 L331.30,341.24 L350.90,328.36 L370.50,326.30 L390.10,326.30 L409.70,326.30 L429.30,326.30 L448.90,326.30 L468.50,326.30" fill="none" stroke="#3f9fd6" stroke-width="1.15" stroke-dasharray="1.8 1.3" stroke-dashoffset="0" stroke-linejoin="round" />
<path d="M292.10,357.72 L311.70,364.93 L331.30,364.41 L350.90,348.96 L370.50,333.00 L390.10,332.48 L409.70,331.97 L429.30,331.71 L448.90,331.45 L468.50,331.45" fill="none" stroke="#3a3a3a" stroke-width="1.1" stroke-linejoin="round" />
<path d="M292.10,357.20 L311.70,363.89 L331.30,364.93 L350.90,365.44 L370.50,361.32 L390.10,341.24 L409.70,333.51 L429.30,332.48 L448.90,331.97 L468.50,331.45" fill="none" stroke="#86c45e" stroke-width="1.1" stroke-linejoin="round" />
<path d="M292.10,357.20 L311.70,363.89 L331.30,364.93 L350.90,365.44 L370.50,361.32 L390.10,343.30 L409.70,333.51 L429.30,332.48 L448.90,331.97 L468.50,331.45" fill="none" stroke="#3f9fd6" stroke-width="1.1" stroke-linejoin="round" />
<path d="M292.10,357.46 L311.70,364.41 L331.30,365.18 L350.90,365.70 L370.50,361.84 L390.10,346.38 L409.70,334.03 L429.30,332.48 L448.90,331.97 L468.50,331.45" fill="none" stroke="#a458c0" stroke-width="1.1" stroke-linejoin="round" />
<path d="M292.10,356.17 L311.70,360.81 L331.30,364.41 L350.90,365.44 L370.50,363.89 L390.10,357.72 L409.70,336.09 L429.30,333.77 L448.90,332.22 L468.50,331.45" fill="none" stroke="#f59a4f" stroke-width="1.1" stroke-linejoin="round" />
<path d="M73.20,489.98 L92.90,451.80 L112.60,445.60 L132.30,440.60 L152.00,437.46 L171.70,435.12 L191.40,433.35 L211.10,431.90 L230.80,430.77 L250.50,429.81" fill="none" stroke="#3a3a3a" stroke-width="1.1" stroke-dasharray="6.2 1.4 0.7 1.5" stroke-dashoffset="0" stroke-linejoin="round" />
<path d="M73.50,502.98 L93.20,463.59 L112.90,453.04 L132.60,448.21 L152.30,444.50 L172.00,441.28 L191.70,439.03 L211.40,437.42 L231.10,436.05 L250.80,434.92" fill="none" stroke="#f59a4f" stroke-width="1.2" stroke-dasharray="6.2 1.4 0.7 1.5" stroke-dashoffset="0" stroke-linejoin="round" />
<path d="M73.20,501.34 L92.90,459.53 L112.60,450.83 L132.30,446.40 L152.00,443.10 L171.70,439.96 L191.40,437.78 L211.10,436.17 L230.80,434.89 L250.50,433.80" fill="none" stroke="#86c45e" stroke-width="1.0" stroke-dasharray="6.2 1.4 0.7 1.5" stroke-dashoffset="0" stroke-linejoin="round" />
<path d="M73.20,501.74 L92.90,459.93 L112.60,451.23 L132.30,446.80 L152.00,443.50 L171.70,440.36 L191.40,438.18 L211.10,436.57 L230.80,435.29 L250.50,434.20" fill="none" stroke="#3f9fd6" stroke-width="1.1" stroke-dasharray="6.2 1.4 0.7 1.5" stroke-dashoffset="0" stroke-linejoin="round" />
<path d="M73.20,502.14 L92.90,460.33 L112.60,451.63 L132.30,447.20 L152.00,443.90 L171.70,440.76 L191.40,438.58 L211.10,436.97 L230.80,435.69 L250.50,434.60" fill="none" stroke="#a458c0" stroke-width="1.0" stroke-dasharray="6.2 1.4 0.7 1.5" stroke-dashoffset="0" stroke-linejoin="round" />
<path d="M292.10,500.45 L311.70,476.31 L331.30,451.78 L350.90,437.14 L370.50,423.06 L390.10,422.09 L409.70,421.53 L429.30,421.37 L448.90,421.29 L468.50,421.21" fill="none" stroke="#3a3a3a" stroke-width="1.1" stroke-dasharray="6.2 1.4 0.7 1.5" stroke-dashoffset="0" stroke-linejoin="round" />
<path d="M292.10,508.66 L311.70,491.20 L331.30,476.72 L350.90,457.73 L370.50,449.61 L390.10,441.32 L409.70,425.15 L429.30,423.38 L448.90,422.41 L468.50,421.61" fill="none" stroke="#f59a4f" stroke-width="1.1" stroke-dasharray="6.2 1.4 0.7 1.5" stroke-dashoffset="0" stroke-linejoin="round" />
<path d="M292.10,508.83 L311.70,491.30 L331.30,474.00 L350.90,455.90 L370.50,448.26 L390.10,433.94 L409.70,424.92 L429.30,423.72 L448.90,422.91 L468.50,422.11" fill="none" stroke="#a458c0" stroke-width="1.0" stroke-dasharray="6.2 1.4 0.7 1.5" stroke-dashoffset="0" stroke-linejoin="round" />
<path d="M292.10,507.67 L311.70,489.89 L331.30,472.19 L350.90,454.42 L370.50,447.01 L390.10,428.75 L409.70,423.76 L429.30,422.72 L448.90,421.91 L468.50,421.11" fill="none" stroke="#86c45e" stroke-width="1.1" stroke-dasharray="6.2 1.4 0.7 1.5" stroke-dashoffset="0" stroke-linejoin="round" />
<path d="M292.10,508.17 L311.70,490.39 L331.30,472.69 L350.90,454.92 L370.50,447.51 L390.10,430.62 L409.70,424.26 L429.30,423.22 L448.90,422.41 L468.50,421.61" fill="none" stroke="#3f9fd6" stroke-width="1.1" stroke-dasharray="6.2 1.4 0.7 1.5" stroke-dashoffset="0" stroke-linejoin="round" />
</svg>
</div>
</body></html>
